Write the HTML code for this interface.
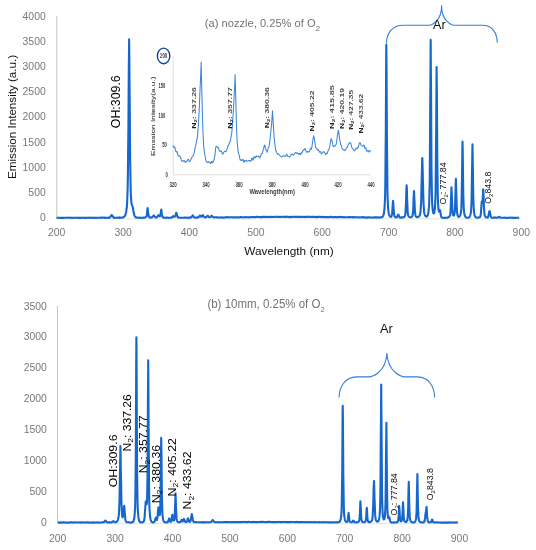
<!DOCTYPE html>
<html><head><meta charset="utf-8"><title>Emission spectra</title>
<style>
html,body{margin:0;padding:0;background:#fff;}
body{width:536px;height:550px;overflow:hidden;}
svg{display:block;font-family:"Liberation Sans",sans-serif;}
.tk{font-size:10.4px;fill:#787878;}
.ttl{font-size:11.3px;fill:#737373;}
.sb{font-size:8px;}
.ttl2{font-size:11.9px;fill:#737373;}
.ax{font-size:11.6px;fill:#111;}
.ar{font-size:12px;fill:#111;}
.pk{font-size:11.9px;fill:#000;}
.pkb{font-size:10.7px;fill:#000;}
.sb2{font-size:7.4px;}
.o2{font-size:9px;fill:#111;}
.sb3{font-size:6px;}
.itk{font-size:6.5px;font-weight:bold;fill:#3a3a3a;}
.iax{font-size:6.6px;font-weight:bold;fill:#3c3c3c;}
.iay{font-size:6px;fill:#3a3a3a;stroke:#3a3a3a;stroke-width:0.1px;}
.il{font-size:5.7px;font-weight:bold;fill:#4a4a4a;}
.iN{fill:#1c1c1c;}
.isb{font-size:3.9px;fill:#1c1c1c;}
</style></head><body>
<svg width="536" height="550" viewBox="0 0 536 550">
<rect width="536" height="550" fill="#fff"/>
<g stroke="#c4c4c4" stroke-width="1" fill="none">
<path d="M56.8 16 V218.8"/>
<path d="M56.8 218.9 H521" stroke="#e2e2e2"/>
<path d="M57.5 306 V523.2"/>
<path d="M57.5 523.6 H459" stroke="#e2e2e2"/>
</g>
<g stroke="#dedede" stroke-width="1" fill="none">
<path d="M173.2 56 V174.8"/>
<path d="M173.2 174.8 H370.5"/>
</g>
<text class="tk" transform="translate(45.70 19.50)" text-anchor="end">4000</text>
<text class="tk" transform="translate(45.70 44.74)" text-anchor="end">3500</text>
<text class="tk" transform="translate(45.70 69.98)" text-anchor="end">3000</text>
<text class="tk" transform="translate(45.70 95.22)" text-anchor="end">2500</text>
<text class="tk" transform="translate(45.70 120.46)" text-anchor="end">2000</text>
<text class="tk" transform="translate(45.70 145.70)" text-anchor="end">1500</text>
<text class="tk" transform="translate(45.70 170.94)" text-anchor="end">1000</text>
<text class="tk" transform="translate(45.70 196.18)" text-anchor="end">500</text>
<text class="tk" transform="translate(45.70 221.42)" text-anchor="end">0</text>
<text class="tk" transform="translate(46.80 309.50)" text-anchor="end">3500</text>
<text class="tk" transform="translate(46.80 340.40)" text-anchor="end">3000</text>
<text class="tk" transform="translate(46.80 371.30)" text-anchor="end">2500</text>
<text class="tk" transform="translate(46.80 402.20)" text-anchor="end">2000</text>
<text class="tk" transform="translate(46.80 433.10)" text-anchor="end">1500</text>
<text class="tk" transform="translate(46.80 464.00)" text-anchor="end">1000</text>
<text class="tk" transform="translate(46.80 494.90)" text-anchor="end">500</text>
<text class="tk" transform="translate(46.80 525.80)" text-anchor="end">0</text>
<text class="tk" transform="translate(56.70 236.40)" text-anchor="middle">200</text>
<text class="tk" transform="translate(123.07 236.40)" text-anchor="middle">300</text>
<text class="tk" transform="translate(189.44 236.40)" text-anchor="middle">400</text>
<text class="tk" transform="translate(255.81 236.40)" text-anchor="middle">500</text>
<text class="tk" transform="translate(322.18 236.40)" text-anchor="middle">600</text>
<text class="tk" transform="translate(388.55 236.40)" text-anchor="middle">700</text>
<text class="tk" transform="translate(454.92 236.40)" text-anchor="middle">800</text>
<text class="tk" transform="translate(521.29 236.40)" text-anchor="middle">900</text>
<text class="tk" transform="translate(57.70 541.50)" text-anchor="middle">200</text>
<text class="tk" transform="translate(115.10 541.50)" text-anchor="middle">300</text>
<text class="tk" transform="translate(172.50 541.50)" text-anchor="middle">400</text>
<text class="tk" transform="translate(229.90 541.50)" text-anchor="middle">500</text>
<text class="tk" transform="translate(287.30 541.50)" text-anchor="middle">600</text>
<text class="tk" transform="translate(344.70 541.50)" text-anchor="middle">700</text>
<text class="tk" transform="translate(402.10 541.50)" text-anchor="middle">800</text>
<text class="tk" transform="translate(459.50 541.50)" text-anchor="middle">900</text>
<text class="ttl" transform="translate(204.80 27.40) scale(0.9867 1)">(a) nozzle, 0.25% of O<tspan class="sb" dy="3.6">2</tspan></text>
<text class="ttl2" transform="translate(207.40 308.40) scale(0.9669 1)">(b) 10mm, 0.25% of O<tspan class="sb" dy="3.7">2</tspan></text>
<text class="ax" transform="translate(244.30 255.20) scale(1.0177 1)">Wavelength (nm)</text>
<text class="ax" transform="translate(15.90 178.90) rotate(-90) scale(1.0023 1)">Emission Intensity (a.u.)</text>
<path d="M172.6,146.3 L173.1,145.8 L173.7,146.6 L174.2,147.7 L174.8,147.1 L175.3,149.4 L175.9,151.7 L176.4,151.9 L177.0,151.5 L177.5,153.3 L178.1,155.6 L178.6,156.1 L179.2,155.7 L179.7,156.0 L180.2,156.7 L180.8,158.0 L181.3,160.0 L181.9,161.2 L182.4,160.9 L183.0,160.6 L183.5,161.4 L184.1,161.0 L184.6,160.5 L185.2,162.2 L185.7,162.4 L186.3,161.6 L186.8,161.2 L187.3,160.6 L187.9,159.6 L188.4,159.3 L189.0,160.8 L189.5,161.8 L190.1,161.4 L190.6,160.1 L191.2,158.9 L191.7,157.5 L192.3,156.7 L192.8,156.4 L193.4,154.8 L193.9,153.6 L194.4,151.8 L195.0,148.2 L195.5,146.0 L196.1,143.7 L196.6,140.7 L197.2,138.5 L197.7,133.9 L198.3,126.0 L198.8,117.3 L199.4,106.5 L199.9,92.6 L200.5,79.2 L201.0,66.7 L201.2,62.0 L201.5,78.3 L202.1,101.2 L202.6,121.1 L203.2,136.5 L203.7,146.2 L204.3,151.5 L204.8,154.6 L205.4,158.0 L205.9,160.7 L206.5,161.7 L207.0,162.4 L207.6,162.2 L208.1,161.6 L208.6,162.3 L209.2,162.5 L209.7,162.1 L210.3,163.4 L210.8,163.5 L211.4,161.5 L211.9,161.6 L212.5,162.9 L213.0,162.1 L213.6,161.1 L214.1,159.8 L214.7,156.8 L215.2,152.8 L215.7,147.7 L216.3,146.3 L216.8,146.3 L217.4,146.9 L217.9,147.9 L218.5,147.6 L219.0,149.7 L219.6,151.1 L220.1,151.5 L220.7,150.7 L221.2,151.3 L221.8,152.1 L222.3,153.7 L222.8,154.3 L223.4,152.8 L223.9,152.1 L224.5,151.5 L225.0,151.2 L225.6,151.7 L226.1,151.6 L226.7,150.2 L227.2,148.4 L227.8,146.0 L228.3,145.8 L228.9,144.8 L229.4,142.2 L229.9,142.0 L230.5,140.5 L231.0,137.0 L231.6,134.3 L232.1,129.0 L232.7,121.9 L233.2,113.0 L233.8,102.8 L234.3,92.8 L234.9,80.4 L235.1,74.6 L235.4,85.6 L236.0,107.1 L236.5,126.9 L237.0,138.8 L237.6,146.6 L238.1,151.5 L238.7,153.6 L239.2,155.3 L239.8,158.4 L240.3,160.4 L240.9,159.8 L241.4,159.8 L242.0,160.6 L242.5,159.9 L243.1,159.3 L243.6,162.1 L244.1,161.9 L244.7,160.5 L245.2,161.1 L245.8,160.6 L246.3,160.2 L246.9,161.2 L247.4,161.3 L248.0,160.9 L248.5,160.5 L249.1,160.4 L249.6,160.6 L250.2,161.2 L250.7,161.5 L251.2,160.3 L251.8,158.1 L252.3,158.5 L252.9,160.2 L253.4,159.0 L254.0,157.0 L254.5,156.6 L255.1,158.0 L255.6,157.5 L256.2,155.8 L256.7,155.9 L257.3,156.7 L257.8,156.8 L258.3,156.3 L258.9,156.2 L259.4,157.2 L260.0,157.9 L260.5,156.5 L261.1,154.6 L261.6,153.5 L262.2,153.6 L262.7,151.9 L263.3,149.7 L263.8,147.7 L264.4,145.0 L264.9,145.2 L265.4,148.2 L266.0,149.9 L266.5,150.4 L267.1,152.3 L267.6,150.9 L268.2,147.9 L268.7,147.6 L269.3,145.4 L269.8,140.9 L270.4,135.7 L270.9,130.8 L271.5,125.4 L272.0,118.5 L272.5,110.7 L272.5,111.4 L273.1,120.9 L273.6,129.6 L274.2,137.5 L274.7,143.1 L275.3,147.7 L275.8,150.8 L276.4,151.5 L276.9,152.9 L277.5,154.2 L278.0,153.5 L278.6,154.3 L279.1,154.5 L279.6,155.0 L280.2,156.3 L280.7,156.4 L281.3,156.8 L281.8,156.8 L282.4,156.5 L282.9,155.8 L283.5,155.8 L284.0,156.1 L284.6,155.7 L285.1,156.1 L285.7,156.4 L286.2,155.4 L286.7,154.2 L287.3,155.0 L287.8,156.2 L288.4,156.5 L288.9,156.7 L289.5,157.1 L290.0,156.8 L290.6,155.8 L291.1,154.8 L291.7,154.1 L292.2,154.3 L292.8,154.9 L293.3,155.1 L293.8,154.5 L294.4,153.6 L294.9,153.0 L295.5,152.6 L296.0,152.6 L296.6,153.3 L297.1,153.4 L297.7,152.8 L298.2,153.5 L298.8,154.4 L299.3,153.8 L299.9,153.2 L300.4,154.6 L300.9,154.3 L301.5,152.5 L302.0,152.8 L302.6,151.6 L303.1,150.3 L303.7,150.4 L304.2,149.4 L304.8,148.5 L305.3,149.6 L305.9,150.8 L306.4,152.0 L307.0,152.3 L307.5,151.5 L308.0,151.5 L308.6,152.1 L309.1,151.8 L309.7,151.2 L310.2,148.9 L310.8,148.1 L311.3,149.2 L311.9,147.2 L312.4,143.0 L313.0,139.0 L313.5,136.9 L313.8,135.7 L314.1,137.4 L314.6,140.7 L315.1,143.9 L315.7,147.8 L316.2,147.9 L316.8,148.5 L317.3,150.1 L317.9,149.5 L318.4,149.9 L319.0,150.9 L319.5,152.2 L320.1,151.5 L320.6,151.7 L321.2,154.0 L321.7,153.8 L322.2,152.9 L322.8,152.6 L323.3,151.5 L323.9,151.9 L324.4,152.8 L325.0,153.0 L325.5,154.4 L326.1,154.3 L326.6,153.0 L327.2,153.4 L327.7,152.1 L328.3,150.0 L328.8,149.6 L329.3,148.1 L329.9,145.9 L330.4,142.2 L331.0,139.1 L331.2,138.8 L331.5,139.4 L332.1,141.2 L332.6,144.0 L333.2,146.6 L333.7,146.2 L334.3,145.8 L334.8,146.3 L335.4,145.5 L335.9,144.8 L336.4,143.3 L337.0,138.9 L337.5,134.9 L338.1,131.6 L338.4,130.2 L338.6,131.4 L339.2,135.0 L339.7,139.4 L340.3,142.7 L340.8,145.0 L341.4,145.2 L341.9,147.6 L342.5,149.1 L343.0,149.4 L343.5,150.0 L344.1,149.7 L344.6,150.6 L345.2,150.3 L345.7,149.8 L346.3,148.3 L346.8,147.4 L347.4,147.3 L347.9,145.5 L348.5,144.3 L349.0,143.3 L349.6,143.3 L350.1,142.5 L350.6,142.7 L351.2,144.9 L351.7,147.0 L352.3,148.4 L352.8,148.8 L353.4,149.3 L353.9,149.8 L354.5,150.9 L355.0,150.1 L355.6,149.1 L356.1,148.1 L356.7,147.9 L357.2,148.8 L357.7,147.7 L358.3,147.3 L358.8,145.6 L359.4,142.9 L359.9,142.6 L360.5,143.6 L361.0,145.2 L361.6,146.0 L362.1,146.0 L362.7,146.3 L363.2,145.7 L363.8,145.0 L364.3,145.2 L364.8,148.3 L365.4,148.4 L365.9,147.7 L366.5,150.6 L367.0,151.4 L367.6,150.5 L368.1,150.4 L368.7,151.4 L369.2,152.1 L369.8,150.9 L370.3,150.5 L370.9,151.2" fill="none" stroke="#3d86d6" stroke-width="1.05" stroke-linejoin="round"/>
<ellipse cx="163.6" cy="55.9" rx="6.2" ry="7.8" fill="none" stroke="#0f4596" stroke-width="1.4"/>
<text class="itk" transform="translate(163.60 58.30) scale(0.6630 1)" text-anchor="middle">200</text>
<text class="itk" transform="translate(161.90 88.02) scale(0.6262 1)" text-anchor="middle">150</text>
<text class="itk" transform="translate(162.00 117.74) scale(0.6262 1)" text-anchor="middle">100</text>
<text class="itk" transform="translate(164.60 147.46) scale(0.6359 1)" text-anchor="middle">50</text>
<text class="itk" transform="translate(166.70 177.18) scale(0.6345 1)" text-anchor="middle">0</text>
<text class="itk" transform="translate(173.00 186.90) scale(0.6722 1)" text-anchor="middle">320</text>
<text class="itk" transform="translate(206.00 186.90) scale(0.6722 1)" text-anchor="middle">340</text>
<text class="itk" transform="translate(239.00 186.90) scale(0.6722 1)" text-anchor="middle">360</text>
<text class="itk" transform="translate(272.00 186.90) scale(0.6722 1)" text-anchor="middle">380</text>
<text class="itk" transform="translate(305.00 186.90) scale(0.6722 1)" text-anchor="middle">400</text>
<text class="itk" transform="translate(338.00 186.90) scale(0.6722 1)" text-anchor="middle">420</text>
<text class="itk" transform="translate(371.00 186.90) scale(0.6722 1)" text-anchor="middle">440</text>
<text class="iax" transform="translate(249.50 194.30) scale(0.8894 1)">Wavelength(nm)</text>
<text class="iay" transform="translate(155.10 156.00) rotate(-90) scale(1.3798 1)">Emssion Intesity(a.u.)</text>
<text class="il" transform="translate(196.00 128.70) rotate(-90) scale(1.5282 1)"><tspan class="iN">N</tspan><tspan class="isb" dy="1.1">2</tspan><tspan dy="-1.1">: 337.26</tspan></text>
<text class="il" transform="translate(231.70 128.70) rotate(-90) scale(1.5282 1)"><tspan class="iN">N</tspan><tspan class="isb" dy="1.1">2</tspan><tspan dy="-1.1">: 357.77</tspan></text>
<text class="il" transform="translate(268.50 128.30) rotate(-90) scale(1.5098 1)"><tspan class="iN">N</tspan><tspan class="isb" dy="1.1">2</tspan><tspan dy="-1.1">: 380.36</tspan></text>
<text class="il" transform="translate(313.50 131.50) rotate(-90) scale(1.5098 1)"><tspan class="iN">N</tspan><tspan class="isb" dy="1.1">2</tspan><tspan dy="-1.1">: 405.22</tspan></text>
<text class="il" transform="translate(334.30 129.00) rotate(-90) scale(1.6203 1)"><tspan class="iN">N</tspan><tspan class="isb" dy="1.1">2</tspan><tspan dy="-1.1">: 415.85</tspan></text>
<text class="il" transform="translate(344.20 129.00) rotate(-90) scale(1.5098 1)"><tspan class="iN">N</tspan><tspan class="isb" dy="1.1">2</tspan><tspan dy="-1.1">: 420.19</tspan></text>
<text class="il" transform="translate(353.20 129.80) rotate(-90) scale(1.4730 1)"><tspan class="iN">N</tspan><tspan class="isb" dy="1.1">2</tspan><tspan dy="-1.1">: 427.35</tspan></text>
<text class="il" transform="translate(363.00 133.60) rotate(-90) scale(1.4656 1)"><tspan class="iN">N</tspan><tspan class="isb" dy="1.1">2</tspan><tspan dy="-1.1">: 433.62</tspan></text>
<path d="M56.6,217.7 L56.8,217.7 L57.1,217.8 L57.3,217.8 L57.5,217.9 L57.8,217.9 L58.0,217.8 L58.2,217.8 L58.5,217.7 L58.7,217.7 L58.9,217.8 L59.2,217.7 L59.4,217.7 L59.6,217.8 L59.9,217.8 L60.1,217.8 L60.3,217.8 L60.5,217.9 L60.8,218.0 L61.0,218.0 L61.2,218.0 L61.5,218.0 L61.7,217.9 L61.9,217.8 L62.2,217.8 L62.4,217.9 L62.6,217.9 L62.9,217.9 L63.1,217.9 L63.3,217.9 L63.6,217.8 L63.8,217.9 L64.0,217.9 L64.3,217.8 L64.5,217.8 L64.7,217.8 L65.0,217.7 L65.2,217.8 L65.4,217.7 L65.7,217.7 L65.9,217.8 L66.1,217.8 L66.4,217.8 L66.6,217.7 L66.8,217.8 L67.1,217.7 L67.3,217.7 L67.5,217.8 L67.8,217.6 L68.0,217.6 L68.2,217.7 L68.4,217.7 L68.7,217.7 L68.9,217.8 L69.1,217.7 L69.4,217.7 L69.6,217.7 L69.8,217.6 L70.1,217.7 L70.3,217.7 L70.5,217.7 L70.8,217.8 L71.0,217.8 L71.2,217.9 L71.5,217.8 L71.7,217.8 L71.9,217.7 L72.2,217.7 L72.4,217.8 L72.6,217.8 L72.9,217.9 L73.1,217.9 L73.3,217.8 L73.6,217.8 L73.8,217.7 L74.0,217.7 L74.3,217.7 L74.5,217.8 L74.7,217.7 L75.0,217.7 L75.2,217.7 L75.4,217.7 L75.6,217.8 L75.9,217.8 L76.1,217.8 L76.3,217.8 L76.6,217.8 L76.8,217.8 L77.0,217.7 L77.3,217.7 L77.5,217.6 L77.7,217.7 L78.0,217.7 L78.2,217.7 L78.4,217.7 L78.7,217.7 L78.9,217.8 L79.1,217.9 L79.4,218.0 L79.6,217.9 L79.8,218.0 L80.1,217.9 L80.3,217.7 L80.5,217.7 L80.8,217.7 L81.0,217.7 L81.2,217.8 L81.5,217.8 L81.7,217.7 L81.9,217.7 L82.2,217.7 L82.4,217.8 L82.6,217.7 L82.8,217.8 L83.1,217.9 L83.3,217.8 L83.5,217.8 L83.8,217.8 L84.0,217.7 L84.2,217.7 L84.5,217.7 L84.7,217.8 L84.9,217.9 L85.2,217.9 L85.4,217.9 L85.6,218.0 L85.9,217.9 L86.1,217.9 L86.3,217.9 L86.6,217.8 L86.8,217.8 L87.0,217.7 L87.3,217.8 L87.5,217.7 L87.7,217.7 L88.0,217.7 L88.2,217.6 L88.4,217.7 L88.7,217.8 L88.9,217.8 L89.1,217.8 L89.4,217.8 L89.6,217.8 L89.8,217.9 L90.1,217.9 L90.3,217.8 L90.5,217.8 L90.7,217.7 L91.0,217.6 L91.2,217.7 L91.4,217.8 L91.7,217.8 L91.9,217.8 L92.1,217.8 L92.4,217.8 L92.6,217.9 L92.8,217.9 L93.1,217.8 L93.3,217.8 L93.5,217.8 L93.8,217.7 L94.0,217.7 L94.2,217.8 L94.5,217.7 L94.7,217.8 L94.9,218.0 L95.2,217.8 L95.4,217.8 L95.6,217.8 L95.9,217.7 L96.1,217.8 L96.3,217.8 L96.6,217.8 L96.8,217.8 L97.0,217.9 L97.3,217.8 L97.5,217.8 L97.7,217.8 L97.9,217.7 L98.2,217.8 L98.4,217.8 L98.6,217.8 L98.9,217.8 L99.1,217.8 L99.3,217.7 L99.6,217.7 L99.8,217.7 L100.0,217.6 L100.3,217.7 L100.5,217.8 L100.7,217.8 L101.0,217.8 L101.2,217.7 L101.4,217.6 L101.7,217.6 L101.9,217.6 L102.1,217.6 L102.4,217.6 L102.6,217.6 L102.8,217.7 L103.1,217.7 L103.3,217.7 L103.5,217.7 L103.8,217.5 L104.0,217.5 L104.2,217.6 L104.5,217.7 L104.7,217.8 L104.9,217.9 L105.1,217.8 L105.4,217.7 L105.6,217.8 L105.8,217.9 L106.1,217.9 L106.3,217.9 L106.5,217.8 L106.8,217.7 L107.0,217.8 L107.2,217.8 L107.5,217.8 L107.7,217.9 L107.9,217.9 L108.2,217.8 L108.4,217.8 L108.6,217.7 L108.9,217.6 L109.1,217.7 L109.3,217.7 L109.6,217.7 L109.8,217.5 L110.0,217.3 L110.3,217.0 L110.5,216.7 L110.7,216.2 L111.0,215.9 L111.2,215.5 L111.4,215.2 L111.7,215.0 L111.7,215.0 L111.9,215.3 L112.1,215.5 L112.4,215.9 L112.6,216.2 L112.8,216.6 L113.0,216.9 L113.3,217.1 L113.5,217.4 L113.7,217.5 L114.0,217.8 L114.2,218.0 L114.4,217.9 L114.7,217.9 L114.9,217.8 L115.1,217.7 L115.4,217.7 L115.6,217.7 L115.8,217.7 L116.1,217.7 L116.3,217.6 L116.5,217.7 L116.8,217.7 L117.0,217.7 L117.2,217.6 L117.5,217.7 L117.7,217.7 L117.9,217.8 L118.2,217.7 L118.4,217.8 L118.6,217.8 L118.9,217.7 L119.1,217.9 L119.3,217.7 L119.6,217.6 L119.8,217.7 L120.0,217.5 L120.2,217.6 L120.5,217.8 L120.7,217.8 L120.9,217.8 L121.2,217.8 L121.4,217.7 L121.6,217.7 L121.9,217.7 L122.1,217.6 L122.3,217.5 L122.6,217.4 L122.8,217.3 L123.0,217.3 L123.3,217.3 L123.5,217.3 L123.7,217.1 L124.0,216.9 L124.2,216.7 L124.4,216.3 L124.7,216.1 L124.9,215.8 L125.1,215.4 L125.4,214.9 L125.6,214.2 L125.8,213.3 L126.1,212.2 L126.3,210.9 L126.5,209.4 L126.8,207.5 L127.0,204.8 L127.2,201.0 L127.4,195.5 L127.7,186.9 L127.9,173.7 L128.1,154.3 L128.4,128.6 L128.6,98.9 L128.8,69.6 L129.1,45.1 L129.1,39.4 L129.3,54.8 L129.5,81.8 L129.8,111.8 L130.0,139.9 L130.2,162.8 L130.5,179.1 L130.7,189.7 L130.9,196.3 L131.2,200.2 L131.4,202.5 L131.6,204.0 L131.9,204.9 L132.1,205.5 L132.3,205.9 L132.6,206.5 L132.6,206.5 L132.8,207.5 L133.0,208.8 L133.3,210.1 L133.5,211.5 L133.7,212.6 L134.0,213.8 L134.2,214.7 L134.4,215.3 L134.7,216.0 L134.9,216.3 L135.1,216.6 L135.3,216.9 L135.6,217.1 L135.8,217.3 L136.0,217.5 L136.3,217.5 L136.5,217.4 L136.7,217.5 L137.0,217.5 L137.2,217.7 L137.4,217.7 L137.7,217.7 L137.9,217.7 L138.1,217.6 L138.4,217.7 L138.6,217.7 L138.8,217.7 L139.1,217.7 L139.3,217.7 L139.5,217.6 L139.8,217.6 L140.0,217.6 L140.2,217.7 L140.5,217.8 L140.7,217.9 L140.9,218.0 L141.2,217.8 L141.4,217.8 L141.6,217.7 L141.9,217.7 L142.1,217.8 L142.3,217.9 L142.5,217.8 L142.8,217.6 L143.0,217.6 L143.2,217.6 L143.5,217.7 L143.7,217.8 L143.9,217.8 L144.2,217.8 L144.4,217.7 L144.6,217.7 L144.9,217.6 L145.1,217.4 L145.3,217.3 L145.6,217.2 L145.8,217.1 L146.0,216.9 L146.3,216.7 L146.5,216.1 L146.7,215.2 L147.0,213.6 L147.2,211.4 L147.4,209.3 L147.6,208.0 L147.7,208.3 L147.9,210.4 L148.1,212.6 L148.4,214.5 L148.6,215.8 L148.8,216.5 L149.1,216.8 L149.3,217.0 L149.5,217.3 L149.8,217.4 L150.0,217.5 L150.2,217.5 L150.4,217.6 L150.7,217.5 L150.9,217.6 L151.1,217.5 L151.4,217.4 L151.6,217.5 L151.8,217.5 L152.1,217.3 L152.3,217.2 L152.5,216.8 L152.8,216.5 L153.0,216.3 L153.2,216.0 L153.5,215.8 L153.7,215.6 L153.8,215.6 L153.9,215.5 L154.2,215.6 L154.4,216.0 L154.6,216.3 L154.9,216.7 L155.1,217.0 L155.3,217.2 L155.6,217.4 L155.8,217.5 L156.0,217.6 L156.3,217.6 L156.5,217.5 L156.7,217.4 L157.0,217.2 L157.2,216.9 L157.4,216.7 L157.6,216.4 L157.9,216.0 L158.1,215.7 L158.3,215.4 L158.5,215.3 L158.6,215.3 L158.8,215.4 L159.0,215.8 L159.3,215.9 L159.5,216.2 L159.7,216.3 L160.0,216.2 L160.2,215.9 L160.4,215.1 L160.7,213.8 L160.9,212.0 L161.1,210.2 L161.3,209.5 L161.4,210.1 L161.6,211.8 L161.8,213.7 L162.1,215.3 L162.3,216.2 L162.5,216.8 L162.8,217.1 L163.0,217.3 L163.2,217.4 L163.5,217.6 L163.7,217.6 L163.9,217.7 L164.2,217.7 L164.4,217.6 L164.6,217.7 L164.8,217.7 L165.1,217.7 L165.3,217.8 L165.5,217.9 L165.8,217.8 L166.0,217.8 L166.2,217.7 L166.5,217.6 L166.7,217.7 L166.9,217.7 L167.2,217.6 L167.4,217.6 L167.6,217.7 L167.9,217.8 L168.1,217.9 L168.3,217.9 L168.6,217.7 L168.8,217.7 L169.0,217.7 L169.3,217.8 L169.5,217.7 L169.7,217.8 L170.0,217.7 L170.2,217.8 L170.4,217.8 L170.7,217.7 L170.9,217.7 L171.1,217.7 L171.4,217.7 L171.6,217.5 L171.8,217.3 L172.1,217.1 L172.3,216.8 L172.5,216.7 L172.7,216.5 L173.0,216.3 L173.1,216.2 L173.2,216.1 L173.4,216.4 L173.7,216.6 L173.9,216.8 L174.1,216.9 L174.4,216.9 L174.6,216.8 L174.8,216.6 L175.1,216.3 L175.3,215.8 L175.5,215.0 L175.8,214.1 L176.0,213.4 L176.2,212.8 L176.3,212.7 L176.5,213.1 L176.7,213.8 L176.9,214.7 L177.2,215.6 L177.4,216.4 L177.6,216.9 L177.9,217.2 L178.1,217.3 L178.3,217.5 L178.6,217.5 L178.8,217.6 L179.0,217.7 L179.3,217.7 L179.5,217.8 L179.7,217.7 L179.9,217.7 L180.2,217.7 L180.4,217.7 L180.6,217.7 L180.9,217.7 L181.1,217.8 L181.3,217.8 L181.6,217.7 L181.8,217.8 L182.0,217.7 L182.3,217.7 L182.5,217.7 L182.7,217.7 L183.0,217.7 L183.2,217.7 L183.4,217.7 L183.7,217.7 L183.9,217.7 L184.1,217.6 L184.4,217.6 L184.6,217.7 L184.8,217.7 L185.1,217.6 L185.3,217.6 L185.5,217.7 L185.8,217.7 L186.0,217.6 L186.2,217.6 L186.5,217.5 L186.7,217.6 L186.9,217.6 L187.1,217.7 L187.4,217.8 L187.6,217.7 L187.8,217.8 L188.1,217.9 L188.3,217.8 L188.5,217.7 L188.8,217.7 L189.0,217.6 L189.2,217.5 L189.5,217.4 L189.7,217.4 L189.9,217.4 L190.2,217.6 L190.4,217.7 L190.6,217.6 L190.9,217.5 L191.1,217.4 L191.3,217.2 L191.6,217.0 L191.8,216.8 L192.0,216.4 L192.3,216.1 L192.5,215.6 L192.7,215.4 L192.8,215.4 L193.0,215.5 L193.2,215.9 L193.4,216.4 L193.7,216.7 L193.9,217.0 L194.1,217.2 L194.4,217.4 L194.6,217.5 L194.8,217.6 L195.0,217.7 L195.3,217.7 L195.5,217.7 L195.7,217.7 L196.0,217.6 L196.2,217.5 L196.4,217.5 L196.7,217.5 L196.9,217.7 L197.1,217.6 L197.4,217.6 L197.6,217.6 L197.8,217.3 L198.1,217.2 L198.3,217.1 L198.5,217.0 L198.8,216.9 L199.0,216.7 L199.2,216.4 L199.5,216.0 L199.7,215.7 L199.9,215.5 L199.9,215.5 L200.2,215.7 L200.4,216.0 L200.6,216.3 L200.9,216.5 L201.1,216.7 L201.3,216.8 L201.6,216.7 L201.8,216.4 L202.0,216.0 L202.2,215.7 L202.5,215.3 L202.7,215.1 L202.7,215.2 L202.9,215.4 L203.2,215.6 L203.4,216.0 L203.6,216.4 L203.9,216.7 L204.1,216.9 L204.3,217.1 L204.6,217.2 L204.8,217.3 L205.0,217.4 L205.3,217.4 L205.5,217.5 L205.7,217.3 L206.0,217.2 L206.2,217.1 L206.4,216.8 L206.7,216.6 L206.9,216.3 L207.1,216.0 L207.4,215.8 L207.5,215.7 L207.6,215.7 L207.8,215.8 L208.1,216.0 L208.3,216.4 L208.5,216.7 L208.8,217.0 L209.0,217.1 L209.2,217.2 L209.5,217.3 L209.7,217.3 L209.9,217.2 L210.1,217.2 L210.4,217.0 L210.6,216.8 L210.8,216.5 L211.1,216.2 L211.3,215.9 L211.5,215.8 L211.6,215.7 L211.8,215.8 L212.0,216.0 L212.2,216.3 L212.5,216.5 L212.7,216.7 L212.9,216.9 L213.2,217.1 L213.4,217.3 L213.6,217.3 L213.9,217.4 L214.1,217.5 L214.3,217.5 L214.6,217.4 L214.8,217.3 L215.0,217.3 L215.3,217.2 L215.5,217.3 L215.7,217.3 L216.0,217.3 L216.2,217.3 L216.4,217.4 L216.7,217.4 L216.9,217.4 L217.1,217.3 L217.3,217.3 L217.6,217.3 L217.8,217.2 L218.0,217.4 L218.3,217.5 L218.5,217.5 L218.7,217.5 L219.0,217.4 L219.2,217.4 L219.4,217.5 L219.7,217.5 L219.9,217.6 L220.1,217.6 L220.4,217.5 L220.6,217.5 L220.8,217.6 L221.1,217.5 L221.3,217.5 L221.5,217.4 L221.8,217.2 L222.0,217.3 L222.2,217.4 L222.5,217.5 L222.7,217.6 L222.9,217.6 L223.2,217.5 L223.4,217.6 L223.6,217.5 L223.9,217.6 L224.1,217.5 L224.3,217.5 L224.5,217.5 L224.8,217.4 L225.0,217.4 L225.2,217.5 L225.5,217.5 L225.7,217.5 L225.9,217.4 L226.2,217.3 L226.4,217.1 L226.6,217.1 L226.9,217.2 L227.1,217.2 L227.3,217.3 L227.6,217.3 L227.8,217.3 L228.0,217.4 L228.3,217.4 L228.5,217.4 L228.7,217.4 L229.0,217.5 L229.2,217.3 L229.4,217.3 L229.7,217.3 L229.9,217.2 L230.1,217.3 L230.4,217.3 L230.6,217.3 L230.8,217.3 L231.1,217.3 L231.3,217.3 L231.5,217.2 L231.8,217.3 L232.0,217.3 L232.2,217.3 L232.4,217.3 L232.7,217.4 L232.9,217.4 L233.1,217.4 L233.4,217.4 L233.6,217.3 L233.8,217.2 L234.1,217.3 L234.3,217.2 L234.5,217.3 L234.8,217.4 L235.0,217.3 L235.2,217.4 L235.5,217.4 L235.7,217.4 L235.9,217.5 L236.2,217.5 L236.4,217.4 L236.6,217.4 L236.9,217.2 L237.1,217.2 L237.3,217.3 L237.6,217.3 L237.8,217.4 L238.0,217.5 L238.3,217.4 L238.5,217.4 L238.7,217.4 L239.0,217.3 L239.2,217.4 L239.4,217.3 L239.6,217.2 L239.9,217.2 L240.1,217.2 L240.3,217.1 L240.6,217.1 L240.8,217.1 L241.0,217.1 L241.3,217.2 L241.5,217.3 L241.7,217.3 L242.0,217.3 L242.2,217.3 L242.4,217.2 L242.7,217.2 L242.9,217.3 L243.1,217.3 L243.4,217.4 L243.6,217.4 L243.8,217.3 L244.1,217.3 L244.3,217.3 L244.5,217.2 L244.8,217.2 L245.0,217.2 L245.2,217.2 L245.5,217.0 L245.7,217.1 L245.9,217.1 L246.2,217.2 L246.4,217.3 L246.6,217.3 L246.8,217.3 L247.1,217.2 L247.3,217.3 L247.5,217.3 L247.8,217.3 L248.0,217.4 L248.2,217.4 L248.5,217.4 L248.7,217.3 L248.9,217.2 L249.2,217.3 L249.4,217.3 L249.6,217.2 L249.9,217.2 L250.1,217.1 L250.3,217.1 L250.6,217.1 L250.8,217.2 L251.0,217.2 L251.3,217.2 L251.5,217.2 L251.7,217.1 L252.0,217.0 L252.2,217.0 L252.4,217.0 L252.7,217.1 L252.9,217.1 L253.1,217.0 L253.4,217.0 L253.6,217.0 L253.8,217.0 L254.1,217.1 L254.3,217.0 L254.5,217.0 L254.7,217.1 L255.0,217.2 L255.2,217.2 L255.4,217.2 L255.7,217.0 L255.9,217.0 L256.1,216.9 L256.4,217.0 L256.6,217.0 L256.8,216.9 L257.1,216.9 L257.3,216.9 L257.5,216.9 L257.8,216.9 L258.0,217.0 L258.2,217.0 L258.5,217.0 L258.7,217.0 L258.9,217.0 L259.2,217.0 L259.4,217.0 L259.6,217.1 L259.9,217.0 L260.1,217.1 L260.3,217.1 L260.6,217.1 L260.8,217.1 L261.0,217.0 L261.3,217.0 L261.5,217.1 L261.7,217.0 L261.9,217.1 L262.2,217.1 L262.4,216.9 L262.6,216.8 L262.9,216.8 L263.1,216.8 L263.3,216.9 L263.6,217.0 L263.8,216.9 L264.0,217.0 L264.3,216.9 L264.5,216.9 L264.7,216.9 L265.0,216.9 L265.2,216.9 L265.4,216.9 L265.7,217.0 L265.9,217.0 L266.1,216.9 L266.4,216.9 L266.6,217.1 L266.8,217.0 L267.1,217.0 L267.3,217.0 L267.5,216.9 L267.8,216.9 L268.0,216.9 L268.2,217.0 L268.5,217.0 L268.7,217.0 L268.9,217.0 L269.1,216.9 L269.4,216.9 L269.6,217.1 L269.8,216.9 L270.1,217.0 L270.3,217.0 L270.5,217.0 L270.8,217.0 L271.0,216.9 L271.2,216.9 L271.5,216.8 L271.7,216.8 L271.9,216.9 L272.2,216.9 L272.4,216.9 L272.6,217.0 L272.9,217.0 L273.1,217.0 L273.3,217.0 L273.6,217.0 L273.8,217.0 L274.0,216.9 L274.3,216.9 L274.5,216.8 L274.7,216.7 L275.0,216.8 L275.2,216.7 L275.4,216.8 L275.7,216.8 L275.9,216.8 L276.1,216.8 L276.4,216.7 L276.6,216.8 L276.8,216.9 L277.0,216.9 L277.3,217.0 L277.5,216.8 L277.7,216.8 L278.0,216.8 L278.2,216.8 L278.4,216.9 L278.7,216.8 L278.9,216.9 L279.1,216.9 L279.4,217.0 L279.6,217.0 L279.8,216.9 L280.1,216.9 L280.3,216.9 L280.5,217.0 L280.8,217.0 L281.0,217.0 L281.2,217.1 L281.5,217.0 L281.7,216.9 L281.9,216.8 L282.2,216.8 L282.4,216.8 L282.6,216.8 L282.9,216.8 L283.1,216.8 L283.3,216.8 L283.6,216.8 L283.8,216.9 L284.0,216.9 L284.2,216.9 L284.5,216.9 L284.7,216.9 L284.9,216.9 L285.2,216.9 L285.4,216.9 L285.6,216.8 L285.9,216.9 L286.1,216.7 L286.3,216.7 L286.6,216.7 L286.8,216.6 L287.0,216.7 L287.3,216.8 L287.5,216.8 L287.7,216.9 L288.0,216.9 L288.2,216.8 L288.4,217.0 L288.7,217.0 L288.9,217.1 L289.1,217.1 L289.4,217.0 L289.6,217.0 L289.8,216.9 L290.1,216.9 L290.3,217.0 L290.5,217.0 L290.8,217.1 L291.0,217.2 L291.2,217.1 L291.5,217.0 L291.7,217.0 L291.9,216.8 L292.1,216.9 L292.4,216.9 L292.6,216.9 L292.8,216.9 L293.1,216.8 L293.3,216.8 L293.5,216.7 L293.8,216.7 L294.0,216.8 L294.2,216.9 L294.5,216.9 L294.7,216.8 L294.9,216.8 L295.2,216.7 L295.4,216.8 L295.6,216.9 L295.9,216.8 L296.1,216.9 L296.3,216.9 L296.6,216.9 L296.8,217.0 L297.0,217.0 L297.3,216.8 L297.5,216.7 L297.7,216.7 L298.0,216.8 L298.2,216.9 L298.4,216.9 L298.7,216.9 L298.9,216.9 L299.1,216.8 L299.3,216.8 L299.6,216.8 L299.8,216.8 L300.0,217.0 L300.3,217.0 L300.5,217.1 L300.7,217.0 L301.0,217.0 L301.2,216.9 L301.4,216.7 L301.7,216.7 L301.9,216.7 L302.1,216.7 L302.4,216.8 L302.6,216.9 L302.8,216.8 L303.1,216.9 L303.3,217.0 L303.5,216.9 L303.8,217.0 L304.0,217.0 L304.2,217.0 L304.5,217.1 L304.7,216.9 L304.9,216.9 L305.2,216.9 L305.4,216.8 L305.6,216.9 L305.9,216.9 L306.1,217.0 L306.3,217.0 L306.5,216.9 L306.8,216.9 L307.0,216.9 L307.2,216.9 L307.5,216.9 L307.7,216.9 L307.9,216.8 L308.2,216.7 L308.4,216.8 L308.6,216.7 L308.9,216.7 L309.1,216.8 L309.3,216.7 L309.6,216.7 L309.8,216.9 L310.0,216.9 L310.3,217.0 L310.5,216.9 L310.7,216.9 L311.0,216.9 L311.2,217.0 L311.4,217.0 L311.7,217.0 L311.9,217.0 L312.1,216.9 L312.4,216.9 L312.6,216.8 L312.8,216.8 L313.1,216.8 L313.3,216.9 L313.5,216.9 L313.8,216.9 L314.0,216.9 L314.2,216.9 L314.4,216.9 L314.7,216.9 L314.9,216.9 L315.1,217.0 L315.4,217.0 L315.6,217.0 L315.8,216.9 L316.1,216.9 L316.3,217.1 L316.5,217.1 L316.8,217.2 L317.0,217.2 L317.2,217.0 L317.5,216.9 L317.7,216.9 L317.9,217.0 L318.2,216.9 L318.4,216.9 L318.6,216.9 L318.9,216.8 L319.1,216.7 L319.3,216.7 L319.6,216.7 L319.8,216.7 L320.0,216.8 L320.3,216.9 L320.5,217.0 L320.7,217.0 L321.0,217.1 L321.2,217.1 L321.4,217.0 L321.6,216.9 L321.9,216.9 L322.1,216.9 L322.3,216.9 L322.6,217.0 L322.8,216.9 L323.0,216.9 L323.3,217.0 L323.5,217.1 L323.7,217.2 L324.0,217.1 L324.2,217.1 L324.4,217.0 L324.7,217.0 L324.9,217.1 L325.1,217.0 L325.4,217.0 L325.6,217.0 L325.8,217.1 L326.1,217.2 L326.3,217.1 L326.5,217.2 L326.8,217.1 L327.0,217.0 L327.2,217.1 L327.5,217.1 L327.7,217.1 L327.9,217.1 L328.2,217.1 L328.4,217.1 L328.6,217.1 L328.8,217.2 L329.1,217.2 L329.3,217.1 L329.5,217.1 L329.8,217.0 L330.0,217.0 L330.2,216.9 L330.5,216.9 L330.7,216.9 L330.9,216.8 L331.2,216.9 L331.4,216.9 L331.6,217.0 L331.9,217.1 L332.1,217.1 L332.3,217.1 L332.6,217.2 L332.8,217.2 L333.0,217.2 L333.3,217.2 L333.5,217.2 L333.7,217.0 L334.0,217.0 L334.2,217.0 L334.4,217.1 L334.7,217.1 L334.9,217.1 L335.1,217.1 L335.4,217.0 L335.6,217.0 L335.8,217.0 L336.1,217.1 L336.3,217.3 L336.5,217.3 L336.7,217.2 L337.0,217.2 L337.2,217.2 L337.4,217.1 L337.7,217.1 L337.9,217.1 L338.1,217.1 L338.4,217.1 L338.6,217.2 L338.8,217.1 L339.1,217.0 L339.3,217.0 L339.5,216.9 L339.8,216.9 L340.0,216.9 L340.2,217.0 L340.5,217.1 L340.7,217.2 L340.9,217.2 L341.2,217.1 L341.4,217.1 L341.6,217.2 L341.9,217.1 L342.1,217.1 L342.3,217.1 L342.6,217.0 L342.8,217.0 L343.0,217.0 L343.3,217.2 L343.5,217.3 L343.7,217.3 L343.9,217.4 L344.2,217.3 L344.4,217.2 L344.6,217.2 L344.9,217.2 L345.1,217.1 L345.3,217.2 L345.6,217.2 L345.8,217.2 L346.0,217.2 L346.3,217.3 L346.5,217.2 L346.7,217.2 L347.0,217.3 L347.2,217.2 L347.4,217.2 L347.7,217.2 L347.9,217.2 L348.1,217.2 L348.4,217.1 L348.6,217.1 L348.8,217.1 L349.1,217.1 L349.3,217.2 L349.5,217.1 L349.8,217.2 L350.0,217.1 L350.2,217.1 L350.5,217.1 L350.7,217.2 L350.9,217.3 L351.2,217.2 L351.4,217.2 L351.6,217.1 L351.8,217.1 L352.1,217.0 L352.3,217.1 L352.5,217.2 L352.8,217.3 L353.0,217.5 L353.2,217.4 L353.5,217.4 L353.7,217.2 L353.9,217.1 L354.2,217.1 L354.4,217.1 L354.6,217.1 L354.9,217.2 L355.1,217.2 L355.3,217.3 L355.6,217.3 L355.8,217.3 L356.0,217.2 L356.3,217.3 L356.5,217.3 L356.7,217.3 L357.0,217.4 L357.2,217.3 L357.4,217.3 L357.7,217.2 L357.9,217.3 L358.1,217.3 L358.4,217.3 L358.6,217.3 L358.8,217.3 L359.0,217.4 L359.3,217.5 L359.5,217.5 L359.7,217.4 L360.0,217.3 L360.2,217.2 L360.4,217.3 L360.7,217.3 L360.9,217.2 L361.1,217.3 L361.4,217.2 L361.6,217.4 L361.8,217.4 L362.1,217.3 L362.3,217.2 L362.5,217.1 L362.8,217.1 L363.0,217.3 L363.2,217.3 L363.5,217.4 L363.7,217.4 L363.9,217.4 L364.2,217.4 L364.4,217.3 L364.6,217.3 L364.9,217.3 L365.1,217.4 L365.3,217.5 L365.6,217.5 L365.8,217.6 L366.0,217.6 L366.2,217.6 L366.5,217.6 L366.7,217.6 L366.9,217.7 L367.2,217.6 L367.4,217.5 L367.6,217.4 L367.9,217.4 L368.1,217.4 L368.3,217.4 L368.6,217.5 L368.8,217.4 L369.0,217.3 L369.3,217.4 L369.5,217.4 L369.7,217.5 L370.0,217.6 L370.2,217.5 L370.4,217.5 L370.7,217.5 L370.9,217.5 L371.1,217.5 L371.4,217.5 L371.6,217.4 L371.8,217.4 L372.1,217.5 L372.3,217.5 L372.5,217.5 L372.8,217.6 L373.0,217.6 L373.2,217.6 L373.5,217.6 L373.7,217.5 L373.9,217.5 L374.1,217.3 L374.4,217.4 L374.6,217.5 L374.8,217.3 L375.1,217.4 L375.3,217.3 L375.5,217.4 L375.8,217.5 L376.0,217.5 L376.2,217.7 L376.5,217.5 L376.7,217.5 L376.9,217.3 L377.2,217.3 L377.4,217.3 L377.6,217.3 L377.9,217.3 L378.1,217.3 L378.3,217.4 L378.6,217.5 L378.8,217.7 L379.0,217.8 L379.3,217.7 L379.5,217.7 L379.7,217.6 L380.0,217.5 L380.2,217.4 L380.4,217.3 L380.7,217.3 L380.9,217.2 L381.1,217.3 L381.3,217.3 L381.6,217.2 L381.8,217.3 L382.0,217.1 L382.3,217.0 L382.5,216.9 L382.7,216.5 L383.0,216.1 L383.2,215.6 L383.4,215.0 L383.7,214.4 L383.9,213.3 L384.1,211.8 L384.4,209.7 L384.6,206.9 L384.8,202.9 L385.1,196.3 L385.3,184.5 L385.5,163.3 L385.8,131.0 L386.0,92.0 L386.2,56.4 L386.3,44.7 L386.5,61.0 L386.7,97.8 L386.9,136.5 L387.2,167.3 L387.4,186.9 L387.6,197.8 L387.9,203.9 L388.1,207.5 L388.3,210.1 L388.5,212.0 L388.8,213.4 L389.0,214.5 L389.2,215.1 L389.5,215.6 L389.7,215.9 L389.9,216.2 L390.2,216.6 L390.4,216.6 L390.6,216.7 L390.9,216.9 L391.1,216.6 L391.3,216.4 L391.6,216.0 L391.8,215.2 L392.0,213.9 L392.3,211.6 L392.5,208.2 L392.7,204.5 L393.0,201.5 L393.0,200.9 L393.2,202.5 L393.4,205.9 L393.7,209.5 L393.9,212.6 L394.1,214.6 L394.4,215.8 L394.6,216.6 L394.8,216.8 L395.1,217.1 L395.3,217.1 L395.5,217.2 L395.8,217.4 L396.0,217.4 L396.2,217.5 L396.4,217.5 L396.7,217.3 L396.9,217.1 L397.1,216.8 L397.4,216.3 L397.6,215.8 L397.8,215.3 L398.1,214.8 L398.3,214.5 L398.3,214.5 L398.5,214.7 L398.8,215.2 L399.0,216.0 L399.2,216.6 L399.5,217.1 L399.7,217.4 L399.9,217.6 L400.2,217.6 L400.4,217.6 L400.6,217.6 L400.9,217.6 L401.1,217.6 L401.3,217.6 L401.6,217.4 L401.8,217.3 L402.0,217.3 L402.3,217.4 L402.5,217.4 L402.7,217.3 L403.0,217.4 L403.2,217.2 L403.4,217.1 L403.6,217.1 L403.9,216.9 L404.1,216.7 L404.3,216.7 L404.6,216.4 L404.8,216.1 L405.0,215.6 L405.3,214.5 L405.5,212.6 L405.7,209.1 L406.0,203.4 L406.2,196.3 L406.4,189.4 L406.6,185.2 L406.7,185.7 L406.9,191.0 L407.1,198.3 L407.4,205.2 L407.6,210.2 L407.8,213.2 L408.1,214.8 L408.3,215.6 L408.5,216.2 L408.8,216.4 L409.0,216.7 L409.2,217.0 L409.5,217.0 L409.7,217.2 L409.9,217.3 L410.2,217.2 L410.4,217.3 L410.6,217.3 L410.8,217.3 L411.1,217.3 L411.3,217.1 L411.5,217.0 L411.8,216.8 L412.0,216.6 L412.2,216.3 L412.5,215.7 L412.7,214.8 L412.9,212.9 L413.2,209.6 L413.4,204.5 L413.6,198.3 L413.9,193.0 L414.0,191.0 L414.1,192.3 L414.3,197.5 L414.6,203.3 L414.8,208.5 L415.0,212.3 L415.3,214.4 L415.5,215.5 L415.7,216.1 L416.0,216.4 L416.2,216.6 L416.4,216.9 L416.7,217.1 L416.9,217.0 L417.1,217.1 L417.4,217.1 L417.6,217.1 L417.8,217.1 L418.1,217.0 L418.3,216.9 L418.5,216.7 L418.7,216.6 L419.0,216.5 L419.2,216.2 L419.4,215.8 L419.7,215.4 L419.9,214.7 L420.1,213.7 L420.4,212.5 L420.6,210.5 L420.8,207.3 L421.1,202.4 L421.3,195.4 L421.5,186.3 L421.8,176.2 L422.0,166.8 L422.2,159.4 L422.3,158.0 L422.5,162.4 L422.7,170.8 L422.9,180.8 L423.2,190.7 L423.4,198.9 L423.6,205.1 L423.9,209.2 L424.1,211.7 L424.3,213.2 L424.6,214.2 L424.8,214.9 L425.0,215.5 L425.3,215.7 L425.5,216.1 L425.7,216.3 L425.9,216.4 L426.2,216.6 L426.4,216.6 L426.6,216.5 L426.9,216.4 L427.1,216.3 L427.3,216.0 L427.6,215.6 L427.8,215.1 L428.0,214.2 L428.3,213.1 L428.5,211.4 L428.7,209.4 L429.0,206.4 L429.2,202.0 L429.4,194.7 L429.7,181.2 L429.9,157.8 L430.1,123.2 L430.4,82.8 L430.6,47.6 L430.7,39.9 L430.8,61.4 L431.1,100.1 L431.3,139.2 L431.5,169.2 L431.8,187.8 L432.0,198.2 L432.2,203.8 L432.5,207.4 L432.7,209.8 L432.9,211.5 L433.2,212.5 L433.4,213.2 L433.6,213.5 L433.8,213.5 L434.1,213.2 L434.3,212.4 L434.5,211.2 L434.8,209.3 L435.0,206.7 L435.2,202.5 L435.5,195.2 L435.7,181.8 L435.9,159.3 L436.2,127.9 L436.4,94.0 L436.6,67.0 L436.6,67.0 L436.9,94.0 L437.1,128.0 L437.3,159.5 L437.6,182.0 L437.8,195.5 L438.0,202.8 L438.3,207.0 L438.5,209.5 L438.7,210.9 L439.0,211.6 L439.2,211.6 L439.4,211.1 L439.7,210.6 L439.9,210.3 L440.0,210.2 L440.1,210.8 L440.4,211.9 L440.6,213.3 L440.8,214.8 L441.0,215.8 L441.3,216.6 L441.5,217.2 L441.7,217.5 L442.0,217.7 L442.2,217.7 L442.4,217.7 L442.7,217.7 L442.9,217.8 L443.1,217.8 L443.4,217.8 L443.6,217.9 L443.8,217.8 L444.1,217.9 L444.3,217.9 L444.5,217.9 L444.8,217.9 L445.0,217.8 L445.2,217.7 L445.5,217.7 L445.7,217.7 L445.9,217.8 L446.2,217.8 L446.4,217.9 L446.6,217.8 L446.9,217.7 L447.1,217.8 L447.3,217.6 L447.6,217.6 L447.8,217.5 L448.0,217.4 L448.2,217.3 L448.5,217.2 L448.7,217.1 L448.9,217.0 L449.2,216.7 L449.4,216.5 L449.6,216.2 L449.9,215.7 L450.1,214.9 L450.3,213.3 L450.6,210.3 L450.8,205.2 L451.0,198.7 L451.3,192.1 L451.5,187.4 L451.5,187.5 L451.7,192.1 L452.0,198.7 L452.2,205.1 L452.4,210.1 L452.7,213.0 L452.9,214.5 L453.1,215.2 L453.4,215.5 L453.6,215.6 L453.8,215.5 L454.1,215.2 L454.3,214.6 L454.5,213.6 L454.8,211.2 L455.0,207.1 L455.2,200.4 L455.5,191.9 L455.7,183.8 L455.9,178.7 L455.9,179.3 L456.1,185.8 L456.4,194.5 L456.6,202.7 L456.8,208.7 L457.1,212.3 L457.3,214.0 L457.5,215.2 L457.8,215.8 L458.0,216.3 L458.2,216.7 L458.5,216.8 L458.7,216.9 L458.9,216.8 L459.2,216.6 L459.4,216.6 L459.6,216.3 L459.9,216.0 L460.1,215.6 L460.3,215.0 L460.6,214.2 L460.8,213.0 L461.0,211.3 L461.3,208.4 L461.5,203.1 L461.7,193.8 L462.0,179.6 L462.2,162.4 L462.4,146.8 L462.5,141.6 L462.7,148.7 L462.9,164.8 L463.1,181.8 L463.3,195.4 L463.6,204.1 L463.8,209.0 L464.0,211.6 L464.3,213.2 L464.5,214.3 L464.7,215.3 L465.0,215.9 L465.2,216.4 L465.4,216.8 L465.7,217.0 L465.9,217.3 L466.1,217.4 L466.4,217.5 L466.6,217.7 L466.8,217.7 L467.1,217.8 L467.3,217.7 L467.5,217.8 L467.8,217.7 L468.0,217.7 L468.2,217.7 L468.5,217.5 L468.7,217.5 L468.9,217.4 L469.2,217.1 L469.4,216.9 L469.6,216.7 L469.9,216.2 L470.1,215.7 L470.3,215.1 L470.5,214.2 L470.8,213.0 L471.0,211.2 L471.2,208.2 L471.5,202.8 L471.7,193.0 L471.9,178.7 L472.2,162.0 L472.4,147.4 L472.5,144.2 L472.6,153.2 L472.9,169.2 L473.1,185.5 L473.3,197.8 L473.6,205.4 L473.8,209.7 L474.0,212.1 L474.3,213.6 L474.5,214.7 L474.7,215.5 L475.0,216.0 L475.2,216.6 L475.4,216.9 L475.7,217.1 L475.9,217.3 L476.1,217.4 L476.4,217.5 L476.6,217.5 L476.8,217.6 L477.1,217.7 L477.3,217.7 L477.5,217.8 L477.8,217.8 L478.0,217.8 L478.2,217.7 L478.4,217.6 L478.7,217.5 L478.9,217.4 L479.1,217.3 L479.4,217.4 L479.6,217.3 L479.8,217.2 L480.1,217.0 L480.3,216.6 L480.5,215.9 L480.8,214.5 L481.0,212.1 L481.2,208.6 L481.5,204.9 L481.7,202.1 L481.8,201.6 L481.9,201.8 L482.2,202.8 L482.4,202.6 L482.6,200.2 L482.9,195.7 L483.1,191.1 L483.2,189.3 L483.3,190.8 L483.6,196.3 L483.8,202.7 L484.0,208.3 L484.3,212.2 L484.5,214.3 L484.7,215.4 L485.0,216.0 L485.2,216.4 L485.4,216.8 L485.6,217.0 L485.9,217.1 L486.1,217.2 L486.3,217.3 L486.6,217.4 L486.8,217.5 L487.0,217.5 L487.3,217.6 L487.5,217.6 L487.7,217.5 L488.0,217.2 L488.2,216.7 L488.4,215.9 L488.7,214.8 L488.9,213.5 L489.1,212.3 L489.4,211.3 L489.5,211.1 L489.6,211.1 L489.8,211.8 L490.1,213.0 L490.3,214.3 L490.5,215.5 L490.8,216.3 L491.0,216.9 L491.2,217.3 L491.5,217.5 L491.7,217.6 L491.9,217.7 L492.2,217.7 L492.4,217.7 L492.6,217.8 L492.9,217.8 L493.1,217.8 L493.3,217.7 L493.5,217.6 L493.8,217.6 L494.0,217.5 L494.2,217.5 L494.5,217.6 L494.7,217.6 L494.9,217.6 L495.2,217.7 L495.4,217.6 L495.6,217.6 L495.9,217.6 L496.1,217.6 L496.3,217.6 L496.6,217.7 L496.8,217.7 L497.0,217.7 L497.3,217.7 L497.5,217.6 L497.7,217.6 L498.0,217.5 L498.2,217.4 L498.4,217.4 L498.7,217.2 L498.9,217.0 L499.1,216.9 L499.2,216.8 L499.4,216.9 L499.6,217.1 L499.8,217.2 L500.1,217.3 L500.3,217.5 L500.5,217.6 L500.7,217.7 L501.0,217.8 L501.2,217.8 L501.4,217.8 L501.7,217.8 L501.9,217.8 L502.1,217.8 L502.4,217.8 L502.6,217.7 L502.8,217.7 L503.1,217.8 L503.3,217.8 L503.5,217.8 L503.8,217.8 L504.0,217.7 L504.2,217.6 L504.5,217.7 L504.7,217.7 L504.9,217.7 L505.2,217.7 L505.4,217.7 L505.6,217.7 L505.9,217.8 L506.1,217.9 L506.3,217.9 L506.6,217.9 L506.8,217.9 L507.0,218.0 L507.3,217.8 L507.5,217.9 L507.7,217.8 L507.9,217.7 L508.2,217.7 L508.4,217.7 L508.6,217.7 L508.9,217.8 L509.1,217.7 L509.3,217.7 L509.6,217.7 L509.8,217.7 L510.0,217.7 L510.3,217.7 L510.5,217.6 L510.7,217.5 L511.0,217.6 L511.2,217.6 L511.4,217.8 L511.7,217.8 L511.9,217.8 L512.1,217.7 L512.4,217.6 L512.6,217.7 L512.8,217.7 L513.1,217.9 L513.3,217.9 L513.5,217.9 L513.8,217.9 L514.0,217.9 L514.2,217.8 L514.5,217.8 L514.7,217.7 L514.9,217.8 L515.2,217.8 L515.4,217.8 L515.6,217.9 L515.8,217.9 L516.1,217.9 L516.3,217.8 L516.5,217.8 L516.8,217.8 L517.0,217.7 L517.2,217.8 L517.5,217.7 L517.7,217.7 L517.9,217.7 L518.2,217.7 L518.4,217.8 L518.6,217.8 L518.9,217.8 L519.1,217.7" fill="none" stroke="#1667cc" stroke-width="2.1" stroke-linejoin="round" stroke-linecap="butt"/>
<path d="M57.7,522.5 L57.9,522.5 L58.2,522.5 L58.4,522.5 L58.6,522.5 L58.8,522.5 L59.1,522.5 L59.3,522.6 L59.5,522.7 L59.8,522.6 L60.0,522.6 L60.2,522.6 L60.5,522.4 L60.7,522.4 L60.9,522.5 L61.1,522.4 L61.4,522.6 L61.6,522.6 L61.8,522.5 L62.1,522.6 L62.3,522.6 L62.5,522.5 L62.8,522.4 L63.0,522.4 L63.2,522.4 L63.4,522.4 L63.7,522.4 L63.9,522.4 L64.1,522.4 L64.4,522.4 L64.6,522.5 L64.8,522.5 L65.0,522.6 L65.3,522.6 L65.5,522.5 L65.7,522.5 L66.0,522.5 L66.2,522.5 L66.4,522.6 L66.7,522.6 L66.9,522.6 L67.1,522.6 L67.3,522.6 L67.6,522.6 L67.8,522.6 L68.0,522.6 L68.3,522.6 L68.5,522.5 L68.7,522.6 L69.0,522.5 L69.2,522.4 L69.4,522.5 L69.6,522.5 L69.9,522.5 L70.1,522.5 L70.3,522.5 L70.6,522.4 L70.8,522.4 L71.0,522.5 L71.2,522.4 L71.5,522.4 L71.7,522.4 L71.9,522.5 L72.2,522.5 L72.4,522.5 L72.6,522.6 L72.9,522.5 L73.1,522.6 L73.3,522.5 L73.5,522.5 L73.8,522.4 L74.0,522.4 L74.2,522.4 L74.5,522.4 L74.7,522.4 L74.9,522.4 L75.1,522.5 L75.4,522.4 L75.6,522.5 L75.8,522.5 L76.1,522.5 L76.3,522.5 L76.5,522.5 L76.8,522.4 L77.0,522.5 L77.2,522.5 L77.4,522.5 L77.7,522.5 L77.9,522.5 L78.1,522.5 L78.4,522.4 L78.6,522.4 L78.8,522.5 L79.1,522.5 L79.3,522.5 L79.5,522.5 L79.7,522.5 L80.0,522.4 L80.2,522.4 L80.4,522.6 L80.7,522.5 L80.9,522.6 L81.1,522.6 L81.3,522.4 L81.6,522.4 L81.8,522.4 L82.0,522.4 L82.3,522.5 L82.5,522.5 L82.7,522.4 L83.0,522.5 L83.2,522.4 L83.4,522.5 L83.6,522.5 L83.9,522.4 L84.1,522.5 L84.3,522.5 L84.6,522.5 L84.8,522.6 L85.0,522.6 L85.3,522.5 L85.5,522.5 L85.7,522.5 L85.9,522.5 L86.2,522.5 L86.4,522.4 L86.6,522.4 L86.9,522.4 L87.1,522.4 L87.3,522.4 L87.5,522.4 L87.8,522.5 L88.0,522.4 L88.2,522.5 L88.5,522.5 L88.7,522.5 L88.9,522.6 L89.2,522.6 L89.4,522.6 L89.6,522.6 L89.8,522.6 L90.1,522.5 L90.3,522.5 L90.5,522.5 L90.8,522.5 L91.0,522.6 L91.2,522.6 L91.5,522.6 L91.7,522.6 L91.9,522.6 L92.1,522.6 L92.4,522.6 L92.6,522.6 L92.8,522.6 L93.1,522.5 L93.3,522.4 L93.5,522.4 L93.7,522.5 L94.0,522.6 L94.2,522.7 L94.4,522.6 L94.7,522.6 L94.9,522.6 L95.1,522.5 L95.4,522.5 L95.6,522.5 L95.8,522.5 L96.0,522.5 L96.3,522.5 L96.5,522.5 L96.7,522.5 L97.0,522.6 L97.2,522.6 L97.4,522.7 L97.7,522.6 L97.9,522.5 L98.1,522.5 L98.3,522.4 L98.6,522.4 L98.8,522.5 L99.0,522.5 L99.3,522.5 L99.5,522.6 L99.7,522.5 L99.9,522.5 L100.2,522.5 L100.4,522.5 L100.6,522.6 L100.9,522.5 L101.1,522.5 L101.3,522.5 L101.6,522.4 L101.8,522.4 L102.0,522.5 L102.2,522.4 L102.5,522.3 L102.7,522.3 L102.9,522.2 L103.2,522.3 L103.4,522.3 L103.6,522.3 L103.8,522.3 L104.1,522.0 L104.3,521.8 L104.5,521.4 L104.8,521.2 L105.0,520.9 L105.2,520.6 L105.3,520.6 L105.5,520.6 L105.7,520.8 L105.9,521.1 L106.1,521.5 L106.4,521.8 L106.6,522.0 L106.8,522.1 L107.1,522.2 L107.3,522.2 L107.5,522.3 L107.8,522.4 L108.0,522.5 L108.2,522.4 L108.4,522.3 L108.7,522.4 L108.9,522.3 L109.1,522.3 L109.4,522.3 L109.6,522.4 L109.8,522.4 L110.0,522.4 L110.3,522.5 L110.5,522.4 L110.7,522.5 L111.0,522.5 L111.2,522.5 L111.4,522.5 L111.7,522.4 L111.9,522.2 L112.1,522.0 L112.3,521.8 L112.6,521.7 L112.8,521.5 L113.0,521.3 L113.3,521.3 L113.4,521.2 L113.5,521.3 L113.7,521.4 L114.0,521.6 L114.2,521.8 L114.4,522.0 L114.6,522.1 L114.9,522.1 L115.1,522.2 L115.3,522.2 L115.6,522.2 L115.8,522.2 L116.0,522.1 L116.2,522.0 L116.5,521.9 L116.7,521.6 L116.9,521.5 L117.2,521.2 L117.4,521.0 L117.6,520.6 L117.9,520.0 L118.1,519.3 L118.3,518.3 L118.5,517.1 L118.8,515.4 L119.0,512.5 L119.2,507.9 L119.5,500.3 L119.7,489.2 L119.9,475.3 L120.2,460.7 L120.4,448.5 L120.4,446.1 L120.6,454.1 L120.8,467.9 L121.1,482.4 L121.3,495.1 L121.5,504.3 L121.8,510.1 L122.0,513.8 L122.2,515.8 L122.4,516.9 L122.7,517.3 L122.9,516.8 L123.1,515.5 L123.4,513.4 L123.6,510.8 L123.8,508.2 L124.1,506.3 L124.2,505.8 L124.3,506.5 L124.5,508.7 L124.7,511.8 L125.0,514.9 L125.2,517.5 L125.4,519.4 L125.7,520.6 L125.9,521.3 L126.1,521.6 L126.4,521.8 L126.6,522.0 L126.8,522.1 L127.0,522.2 L127.3,522.2 L127.5,522.3 L127.7,522.2 L128.0,522.3 L128.2,522.3 L128.4,522.3 L128.6,522.3 L128.9,522.3 L129.1,522.3 L129.3,522.3 L129.6,522.5 L129.8,522.6 L130.0,522.6 L130.3,522.5 L130.5,522.5 L130.7,522.5 L130.9,522.5 L131.2,522.6 L131.4,522.6 L131.6,522.5 L131.9,522.3 L132.1,522.2 L132.3,522.0 L132.5,521.9 L132.8,521.9 L133.0,521.9 L133.2,521.7 L133.5,521.2 L133.7,520.6 L133.9,519.7 L134.2,518.6 L134.4,517.1 L134.6,515.0 L134.8,512.1 L135.1,507.7 L135.3,499.9 L135.5,484.6 L135.8,455.8 L136.0,412.3 L136.2,365.0 L136.4,337.3 L136.5,345.5 L136.7,388.1 L136.9,435.6 L137.1,472.1 L137.4,493.6 L137.6,504.4 L137.8,510.2 L138.1,513.7 L138.3,516.2 L138.5,517.9 L138.7,519.2 L139.0,520.1 L139.2,520.8 L139.4,521.2 L139.7,521.6 L139.9,521.9 L140.1,522.0 L140.4,522.2 L140.6,522.2 L140.8,522.2 L141.0,522.3 L141.3,522.4 L141.5,522.4 L141.7,522.4 L142.0,522.4 L142.2,522.3 L142.4,522.3 L142.7,522.2 L142.9,522.1 L143.1,522.0 L143.3,521.9 L143.6,521.7 L143.8,521.3 L144.0,520.6 L144.3,519.6 L144.5,517.9 L144.7,515.6 L144.9,512.5 L145.2,509.0 L145.4,505.6 L145.6,502.8 L145.8,501.3 L145.9,501.3 L146.1,501.8 L146.3,502.9 L146.6,504.1 L146.8,504.1 L147.0,501.6 L147.2,494.0 L147.5,476.4 L147.7,445.3 L147.9,404.3 L148.2,367.5 L148.2,360.4 L148.4,384.7 L148.6,426.1 L148.9,464.0 L149.1,489.2 L149.3,502.5 L149.5,509.3 L149.8,513.2 L150.0,515.7 L150.2,517.6 L150.5,518.9 L150.7,519.8 L150.9,520.5 L151.1,521.0 L151.4,521.5 L151.6,521.7 L151.8,521.9 L152.1,522.1 L152.3,522.3 L152.5,522.4 L152.8,522.5 L153.0,522.5 L153.2,522.4 L153.4,522.4 L153.7,522.3 L153.9,522.2 L154.1,522.1 L154.4,521.8 L154.6,521.4 L154.8,521.0 L155.1,520.2 L155.3,519.3 L155.5,518.5 L155.7,517.8 L155.9,517.6 L156.0,517.8 L156.2,518.3 L156.4,519.1 L156.7,519.7 L156.9,519.9 L157.1,519.5 L157.3,518.2 L157.6,516.1 L157.8,513.3 L158.0,510.5 L158.3,508.2 L158.4,507.2 L158.5,507.4 L158.7,508.6 L159.0,510.7 L159.2,512.9 L159.4,514.6 L159.6,515.2 L159.9,514.6 L160.1,512.3 L160.3,506.7 L160.6,495.5 L160.8,477.3 L161.0,455.6 L161.2,437.9 L161.2,437.9 L161.5,455.6 L161.7,477.4 L161.9,495.8 L162.2,507.2 L162.4,513.1 L162.6,516.2 L162.9,518.1 L163.1,519.3 L163.3,520.2 L163.5,520.9 L163.8,521.3 L164.0,521.7 L164.2,521.8 L164.5,521.9 L164.7,522.1 L164.9,522.2 L165.2,522.3 L165.4,522.3 L165.6,522.3 L165.8,522.4 L166.1,522.4 L166.3,522.5 L166.5,522.5 L166.8,522.5 L167.0,522.4 L167.2,522.3 L167.4,522.3 L167.7,522.1 L167.9,521.9 L168.1,521.4 L168.4,520.7 L168.6,519.9 L168.8,519.0 L169.1,518.5 L169.2,518.4 L169.3,518.5 L169.5,519.1 L169.7,520.0 L170.0,520.7 L170.2,521.3 L170.4,521.7 L170.7,521.7 L170.9,521.8 L171.1,521.4 L171.4,520.6 L171.6,519.5 L171.8,517.8 L172.0,516.2 L172.3,515.0 L172.4,514.7 L172.5,514.9 L172.7,516.1 L173.0,517.5 L173.2,519.0 L173.4,520.0 L173.6,520.5 L173.9,520.6 L174.1,520.3 L174.3,519.5 L174.6,517.7 L174.8,514.0 L175.0,507.9 L175.3,500.5 L175.5,494.4 L175.5,493.4 L175.7,497.1 L175.9,504.2 L176.2,511.2 L176.4,516.2 L176.6,518.9 L176.9,520.3 L177.1,521.0 L177.3,521.4 L177.6,521.6 L177.8,521.7 L178.0,521.9 L178.2,521.9 L178.5,522.1 L178.7,522.2 L178.9,522.2 L179.2,522.2 L179.4,522.1 L179.6,522.1 L179.8,522.2 L180.1,522.1 L180.3,522.1 L180.5,521.9 L180.8,521.6 L181.0,521.1 L181.2,520.5 L181.5,520.0 L181.6,519.7 L181.7,519.7 L181.9,520.0 L182.1,520.5 L182.4,521.0 L182.6,521.4 L182.8,521.4 L183.1,521.2 L183.3,520.7 L183.5,520.0 L183.8,519.3 L184.0,519.0 L184.0,518.8 L184.2,519.1 L184.4,519.8 L184.7,520.5 L184.9,521.1 L185.1,521.7 L185.4,521.9 L185.6,522.0 L185.8,522.1 L186.0,522.1 L186.3,522.1 L186.5,522.0 L186.7,521.8 L187.0,521.4 L187.2,520.8 L187.4,520.0 L187.7,519.1 L187.9,518.5 L188.0,518.3 L188.1,518.5 L188.3,519.1 L188.6,519.9 L188.8,520.7 L189.0,521.3 L189.3,521.6 L189.5,521.9 L189.7,521.9 L189.9,521.8 L190.2,521.6 L190.4,521.2 L190.6,520.6 L190.9,519.6 L191.1,518.2 L191.3,516.7 L191.6,515.1 L191.8,514.2 L191.8,514.1 L192.0,514.7 L192.2,516.0 L192.5,517.4 L192.7,518.8 L192.9,520.0 L193.2,520.9 L193.4,521.5 L193.6,521.9 L193.9,521.9 L194.1,522.0 L194.3,522.0 L194.5,522.0 L194.8,522.1 L195.0,522.1 L195.2,522.1 L195.5,522.2 L195.7,522.3 L195.9,522.3 L196.1,522.3 L196.4,522.2 L196.6,522.2 L196.8,522.2 L197.1,522.3 L197.3,522.3 L197.5,522.3 L197.8,522.2 L198.0,522.2 L198.2,522.2 L198.4,522.2 L198.7,522.2 L198.9,522.3 L199.1,522.3 L199.4,522.2 L199.6,522.3 L199.8,522.2 L200.1,522.2 L200.3,522.3 L200.5,522.2 L200.7,522.3 L201.0,522.3 L201.2,522.4 L201.4,522.4 L201.7,522.3 L201.9,522.4 L202.1,522.3 L202.3,522.2 L202.6,522.1 L202.8,522.1 L203.0,522.2 L203.3,522.3 L203.5,522.4 L203.7,522.4 L204.0,522.4 L204.2,522.4 L204.4,522.4 L204.6,522.4 L204.9,522.4 L205.1,522.4 L205.3,522.4 L205.6,522.4 L205.8,522.3 L206.0,522.2 L206.3,522.2 L206.5,522.2 L206.7,522.3 L206.9,522.2 L207.2,522.2 L207.4,522.2 L207.6,522.2 L207.9,522.3 L208.1,522.4 L208.3,522.4 L208.5,522.3 L208.8,522.3 L209.0,522.3 L209.2,522.2 L209.5,522.2 L209.7,522.2 L209.9,522.2 L210.2,522.2 L210.4,522.2 L210.6,522.2 L210.8,522.0 L211.1,521.9 L211.3,521.7 L211.5,521.5 L211.8,521.2 L212.0,520.9 L212.2,520.6 L212.5,520.3 L212.7,520.1 L212.7,520.1 L212.9,520.2 L213.1,520.5 L213.4,520.9 L213.6,521.2 L213.8,521.5 L214.1,521.8 L214.3,521.9 L214.5,522.0 L214.7,522.1 L215.0,522.1 L215.2,522.2 L215.4,522.3 L215.7,522.3 L215.9,522.3 L216.1,522.3 L216.4,522.2 L216.6,522.2 L216.8,522.2 L217.0,522.2 L217.3,522.1 L217.5,522.2 L217.7,522.2 L218.0,522.2 L218.2,522.3 L218.4,522.3 L218.6,522.3 L218.9,522.3 L219.1,522.3 L219.3,522.2 L219.6,522.2 L219.8,522.1 L220.0,522.2 L220.3,522.3 L220.5,522.3 L220.7,522.4 L220.9,522.3 L221.2,522.3 L221.4,522.3 L221.6,522.3 L221.9,522.3 L222.1,522.3 L222.3,522.2 L222.6,522.2 L222.8,522.2 L223.0,522.2 L223.2,522.2 L223.5,522.1 L223.7,522.2 L223.9,522.1 L224.2,522.0 L224.4,522.0 L224.6,522.0 L224.8,522.0 L225.1,522.1 L225.3,522.1 L225.5,522.1 L225.8,522.1 L226.0,522.1 L226.2,522.1 L226.5,522.1 L226.7,522.1 L226.9,522.2 L227.1,522.1 L227.4,522.2 L227.6,522.1 L227.8,522.1 L228.1,522.1 L228.3,522.1 L228.5,522.1 L228.8,522.1 L229.0,522.1 L229.2,522.1 L229.4,522.2 L229.7,522.2 L229.9,522.2 L230.1,522.2 L230.4,522.2 L230.6,522.1 L230.8,522.1 L231.0,522.0 L231.3,522.0 L231.5,522.1 L231.7,522.1 L232.0,522.1 L232.2,522.1 L232.4,522.1 L232.7,522.1 L232.9,522.1 L233.1,522.2 L233.3,522.2 L233.6,522.3 L233.8,522.3 L234.0,522.2 L234.3,522.1 L234.5,522.1 L234.7,522.1 L235.0,522.2 L235.2,522.2 L235.4,522.2 L235.6,522.1 L235.9,522.0 L236.1,522.0 L236.3,522.0 L236.6,522.1 L236.8,522.2 L237.0,522.2 L237.2,522.2 L237.5,522.2 L237.7,522.1 L237.9,522.1 L238.2,522.1 L238.4,522.2 L238.6,522.2 L238.9,522.2 L239.1,522.1 L239.3,522.1 L239.5,522.0 L239.8,522.0 L240.0,522.0 L240.2,522.1 L240.5,522.2 L240.7,522.2 L240.9,522.1 L241.2,522.0 L241.4,521.9 L241.6,522.0 L241.8,522.1 L242.1,522.1 L242.3,522.1 L242.5,522.0 L242.8,522.0 L243.0,522.0 L243.2,522.0 L243.4,522.0 L243.7,522.1 L243.9,522.0 L244.1,522.0 L244.4,522.0 L244.6,521.9 L244.8,521.9 L245.1,522.0 L245.3,521.9 L245.5,522.0 L245.7,522.1 L246.0,522.2 L246.2,522.1 L246.4,522.2 L246.7,522.1 L246.9,522.1 L247.1,522.1 L247.3,522.1 L247.6,522.1 L247.8,522.0 L248.0,521.9 L248.3,521.9 L248.5,521.9 L248.7,521.9 L249.0,522.0 L249.2,522.0 L249.4,522.0 L249.6,522.0 L249.9,522.0 L250.1,522.0 L250.3,522.0 L250.6,522.0 L250.8,522.0 L251.0,522.0 L251.3,522.1 L251.5,522.1 L251.7,522.0 L251.9,522.1 L252.2,522.1 L252.4,522.1 L252.6,522.2 L252.9,522.0 L253.1,522.1 L253.3,522.0 L253.5,521.9 L253.8,522.0 L254.0,521.9 L254.2,521.9 L254.5,522.0 L254.7,522.0 L254.9,522.0 L255.2,522.1 L255.4,522.0 L255.6,522.1 L255.8,522.0 L256.1,522.0 L256.3,522.1 L256.5,522.0 L256.8,522.0 L257.0,522.1 L257.2,522.0 L257.5,522.1 L257.7,522.1 L257.9,522.1 L258.1,522.1 L258.4,522.0 L258.6,522.0 L258.8,522.0 L259.1,522.0 L259.3,522.0 L259.5,522.0 L259.7,522.0 L260.0,522.1 L260.2,522.1 L260.4,522.0 L260.7,521.9 L260.9,521.8 L261.1,521.8 L261.4,521.9 L261.6,521.9 L261.8,522.0 L262.0,521.9 L262.3,521.9 L262.5,521.9 L262.7,522.0 L263.0,522.0 L263.2,522.0 L263.4,522.0 L263.7,521.9 L263.9,522.0 L264.1,522.0 L264.3,522.0 L264.6,522.1 L264.8,522.1 L265.0,522.1 L265.3,522.1 L265.5,522.1 L265.7,522.1 L265.9,522.0 L266.2,522.0 L266.4,522.0 L266.6,522.1 L266.9,522.1 L267.1,522.1 L267.3,522.0 L267.6,522.0 L267.8,521.9 L268.0,521.9 L268.2,521.9 L268.5,521.9 L268.7,522.0 L268.9,521.9 L269.2,521.9 L269.4,522.0 L269.6,521.9 L269.9,522.0 L270.1,522.0 L270.3,521.9 L270.5,522.0 L270.8,522.0 L271.0,522.0 L271.2,522.0 L271.5,522.0 L271.7,522.0 L271.9,522.1 L272.1,522.1 L272.4,522.2 L272.6,522.2 L272.8,522.2 L273.1,522.1 L273.3,522.1 L273.5,522.0 L273.8,522.0 L274.0,522.1 L274.2,522.1 L274.4,522.1 L274.7,522.2 L274.9,522.1 L275.1,522.1 L275.4,522.1 L275.6,522.1 L275.8,522.1 L276.0,522.0 L276.3,522.1 L276.5,522.1 L276.7,522.0 L277.0,522.1 L277.2,522.0 L277.4,522.0 L277.7,522.0 L277.9,522.0 L278.1,522.1 L278.3,522.1 L278.6,522.1 L278.8,522.1 L279.0,522.0 L279.3,522.0 L279.5,521.9 L279.7,522.0 L280.0,522.0 L280.2,522.0 L280.4,522.1 L280.6,522.1 L280.9,522.2 L281.1,522.1 L281.3,522.1 L281.6,522.1 L281.8,522.1 L282.0,522.0 L282.2,522.1 L282.5,522.1 L282.7,522.0 L282.9,522.0 L283.2,521.9 L283.4,521.9 L283.6,521.9 L283.9,522.0 L284.1,522.0 L284.3,522.0 L284.5,522.1 L284.8,522.0 L285.0,522.0 L285.2,522.0 L285.5,522.0 L285.7,522.1 L285.9,522.1 L286.2,522.1 L286.4,522.1 L286.6,522.1 L286.8,522.1 L287.1,522.1 L287.3,522.1 L287.5,522.0 L287.8,522.1 L288.0,522.1 L288.2,522.0 L288.4,522.1 L288.7,522.0 L288.9,522.1 L289.1,522.1 L289.4,522.0 L289.6,522.1 L289.8,522.1 L290.1,522.1 L290.3,522.2 L290.5,522.2 L290.7,522.1 L291.0,522.1 L291.2,522.0 L291.4,521.9 L291.7,522.0 L291.9,522.0 L292.1,522.0 L292.4,522.0 L292.6,522.0 L292.8,522.0 L293.0,522.0 L293.3,522.0 L293.5,522.0 L293.7,522.0 L294.0,522.1 L294.2,522.1 L294.4,522.2 L294.6,522.2 L294.9,522.2 L295.1,522.2 L295.3,522.2 L295.6,522.1 L295.8,522.1 L296.0,522.0 L296.3,522.0 L296.5,521.9 L296.7,521.9 L296.9,521.9 L297.2,522.0 L297.4,522.2 L297.6,522.2 L297.9,522.2 L298.1,522.2 L298.3,522.1 L298.6,522.0 L298.8,522.0 L299.0,522.1 L299.2,522.1 L299.5,522.2 L299.7,522.2 L299.9,522.2 L300.2,522.1 L300.4,522.2 L300.6,522.1 L300.8,522.1 L301.1,522.1 L301.3,522.0 L301.5,522.0 L301.8,522.0 L302.0,522.1 L302.2,522.2 L302.5,522.2 L302.7,522.2 L302.9,522.1 L303.1,522.1 L303.4,522.1 L303.6,522.2 L303.8,522.2 L304.1,522.2 L304.3,522.1 L304.5,522.1 L304.7,522.1 L305.0,522.2 L305.2,522.3 L305.4,522.2 L305.7,522.2 L305.9,522.2 L306.1,522.1 L306.4,522.2 L306.6,522.2 L306.8,522.2 L307.0,522.2 L307.3,522.1 L307.5,522.1 L307.7,522.1 L308.0,522.1 L308.2,522.2 L308.4,522.2 L308.7,522.3 L308.9,522.3 L309.1,522.3 L309.3,522.2 L309.6,522.1 L309.8,522.1 L310.0,522.1 L310.3,522.1 L310.5,522.2 L310.7,522.2 L310.9,522.2 L311.2,522.2 L311.4,522.1 L311.6,522.2 L311.9,522.3 L312.1,522.3 L312.3,522.3 L312.6,522.3 L312.8,522.2 L313.0,522.1 L313.2,522.1 L313.5,522.1 L313.7,522.1 L313.9,522.1 L314.2,522.2 L314.4,522.2 L314.6,522.3 L314.9,522.3 L315.1,522.2 L315.3,522.2 L315.5,522.1 L315.8,522.2 L316.0,522.2 L316.2,522.2 L316.5,522.3 L316.7,522.3 L316.9,522.3 L317.1,522.2 L317.4,522.2 L317.6,522.1 L317.8,522.2 L318.1,522.3 L318.3,522.3 L318.5,522.4 L318.8,522.3 L319.0,522.3 L319.2,522.2 L319.4,522.1 L319.7,522.1 L319.9,522.1 L320.1,522.2 L320.4,522.2 L320.6,522.2 L320.8,522.2 L321.1,522.2 L321.3,522.2 L321.5,522.2 L321.7,522.2 L322.0,522.2 L322.2,522.4 L322.4,522.3 L322.7,522.3 L322.9,522.3 L323.1,522.2 L323.3,522.1 L323.6,522.2 L323.8,522.1 L324.0,522.2 L324.3,522.3 L324.5,522.2 L324.7,522.2 L325.0,522.2 L325.2,522.2 L325.4,522.2 L325.6,522.2 L325.9,522.2 L326.1,522.2 L326.3,522.2 L326.6,522.2 L326.8,522.2 L327.0,522.2 L327.3,522.3 L327.5,522.3 L327.7,522.4 L327.9,522.4 L328.2,522.4 L328.4,522.4 L328.6,522.4 L328.9,522.4 L329.1,522.4 L329.3,522.3 L329.5,522.3 L329.8,522.3 L330.0,522.4 L330.2,522.4 L330.5,522.4 L330.7,522.4 L330.9,522.3 L331.2,522.2 L331.4,522.3 L331.6,522.4 L331.8,522.4 L332.1,522.5 L332.3,522.5 L332.5,522.4 L332.8,522.4 L333.0,522.4 L333.2,522.3 L333.4,522.3 L333.7,522.4 L333.9,522.4 L334.1,522.4 L334.4,522.3 L334.6,522.3 L334.8,522.2 L335.1,522.3 L335.3,522.3 L335.5,522.2 L335.7,522.3 L336.0,522.3 L336.2,522.4 L336.4,522.4 L336.7,522.4 L336.9,522.5 L337.1,522.4 L337.4,522.4 L337.6,522.3 L337.8,522.3 L338.0,522.3 L338.3,522.3 L338.5,522.2 L338.7,522.1 L339.0,522.0 L339.2,522.0 L339.4,521.9 L339.6,521.7 L339.9,521.5 L340.1,521.0 L340.3,520.5 L340.6,519.7 L340.8,518.7 L341.0,517.3 L341.3,515.2 L341.5,512.1 L341.7,506.3 L341.9,494.9 L342.2,474.3 L342.4,445.4 L342.6,416.8 L342.7,405.7 L342.9,416.6 L343.1,445.2 L343.3,474.1 L343.6,494.8 L343.8,506.4 L344.0,512.1 L344.2,515.3 L344.5,517.3 L344.7,518.7 L344.9,519.8 L345.2,520.6 L345.4,521.1 L345.6,521.5 L345.8,521.6 L346.1,521.8 L346.3,521.9 L346.5,521.9 L346.8,521.9 L347.0,521.8 L347.2,521.7 L347.5,521.4 L347.7,520.7 L347.9,519.2 L348.1,517.0 L348.4,514.6 L348.6,512.9 L348.6,512.9 L348.8,514.7 L349.1,517.1 L349.3,519.3 L349.5,520.6 L349.8,521.4 L350.0,521.8 L350.2,521.9 L350.4,522.1 L350.7,522.2 L350.9,522.2 L351.1,522.2 L351.4,522.2 L351.6,522.2 L351.8,522.2 L352.0,522.1 L352.3,521.9 L352.5,521.5 L352.7,521.1 L353.0,520.7 L353.2,520.5 L353.2,520.5 L353.4,520.7 L353.7,521.0 L353.9,521.4 L354.1,521.8 L354.3,522.0 L354.6,522.2 L354.8,522.3 L355.0,522.3 L355.3,522.4 L355.5,522.4 L355.7,522.3 L356.0,522.5 L356.2,522.4 L356.4,522.4 L356.6,522.3 L356.9,522.3 L357.1,522.3 L357.3,522.2 L357.6,522.3 L357.8,522.2 L358.0,522.1 L358.2,522.0 L358.5,521.8 L358.7,521.5 L358.9,521.2 L359.2,520.6 L359.4,519.4 L359.6,517.2 L359.9,513.2 L360.1,507.9 L360.3,503.0 L360.4,501.4 L360.5,503.0 L360.8,507.8 L361.0,513.1 L361.2,517.1 L361.5,519.4 L361.7,520.6 L361.9,521.2 L362.1,521.5 L362.4,521.8 L362.6,521.9 L362.8,522.1 L363.1,522.2 L363.3,522.2 L363.5,522.3 L363.8,522.3 L364.0,522.2 L364.2,522.2 L364.4,522.1 L364.7,522.0 L364.9,521.9 L365.1,521.8 L365.4,521.5 L365.6,521.1 L365.8,520.1 L366.1,518.2 L366.3,515.1 L366.5,511.4 L366.7,508.3 L366.8,507.8 L367.0,509.7 L367.2,513.3 L367.4,516.9 L367.7,519.4 L367.9,520.8 L368.1,521.4 L368.3,521.7 L368.6,522.0 L368.8,522.1 L369.0,522.1 L369.3,522.2 L369.5,522.1 L369.7,522.1 L370.0,522.1 L370.2,522.0 L370.4,522.0 L370.6,521.8 L370.9,521.6 L371.1,521.4 L371.3,521.2 L371.6,521.0 L371.8,520.6 L372.0,520.1 L372.3,519.3 L372.5,517.8 L372.7,515.5 L372.9,511.3 L373.2,505.4 L373.4,497.8 L373.6,489.8 L373.9,483.3 L374.0,481.0 L374.1,483.3 L374.3,489.8 L374.5,497.7 L374.8,505.4 L375.0,511.4 L375.2,515.4 L375.5,517.8 L375.7,519.2 L375.9,520.0 L376.2,520.6 L376.4,520.9 L376.6,521.1 L376.8,521.4 L377.1,521.5 L377.3,521.6 L377.5,521.6 L377.8,521.6 L378.0,521.5 L378.2,521.2 L378.5,521.0 L378.7,520.5 L378.9,519.7 L379.1,518.8 L379.4,517.4 L379.6,515.4 L379.8,512.5 L380.1,507.5 L380.3,497.9 L380.5,479.3 L380.7,449.3 L381.0,413.6 L381.2,384.5 L381.2,384.5 L381.4,413.5 L381.7,449.1 L381.9,479.1 L382.1,497.7 L382.4,507.2 L382.6,512.1 L382.8,514.9 L383.0,516.8 L383.3,518.1 L383.5,518.9 L383.7,519.4 L384.0,519.5 L384.2,519.2 L384.4,518.8 L384.7,517.8 L384.9,516.1 L385.1,513.4 L385.3,508.6 L385.6,498.8 L385.8,481.3 L386.0,456.7 L386.3,432.2 L386.4,422.9 L386.5,432.3 L386.7,456.8 L386.9,481.5 L387.2,499.1 L387.4,508.8 L387.6,513.6 L387.9,516.1 L388.1,517.5 L388.3,518.2 L388.6,518.2 L388.8,517.8 L389.0,517.3 L389.2,517.1 L389.2,517.2 L389.5,517.9 L389.7,519.0 L389.9,520.2 L390.2,521.1 L390.4,521.6 L390.6,522.0 L390.8,522.1 L391.1,522.3 L391.3,522.5 L391.5,522.5 L391.8,522.6 L392.0,522.5 L392.2,522.5 L392.5,522.5 L392.7,522.5 L392.9,522.5 L393.1,522.5 L393.4,522.6 L393.6,522.6 L393.8,522.4 L394.1,522.5 L394.3,522.4 L394.5,522.4 L394.8,522.5 L395.0,522.5 L395.2,522.5 L395.4,522.5 L395.7,522.4 L395.9,522.4 L396.1,522.3 L396.4,522.3 L396.6,522.3 L396.8,522.4 L397.0,522.3 L397.3,522.0 L397.5,521.8 L397.7,521.5 L398.0,521.2 L398.2,520.3 L398.4,518.5 L398.7,515.4 L398.9,511.2 L399.1,507.4 L399.2,506.1 L399.3,507.4 L399.6,511.2 L399.8,515.3 L400.0,518.4 L400.3,520.1 L400.5,520.9 L400.7,521.3 L401.0,521.4 L401.2,521.3 L401.4,521.2 L401.6,520.9 L401.9,520.2 L402.1,518.7 L402.3,515.7 L402.6,511.1 L402.8,505.9 L403.0,502.2 L403.0,502.2 L403.2,505.8 L403.5,510.9 L403.7,515.6 L403.9,518.7 L404.2,520.4 L404.4,521.1 L404.6,521.5 L404.9,521.6 L405.1,521.8 L405.3,521.9 L405.5,522.0 L405.8,522.0 L406.0,521.9 L406.2,521.8 L406.5,521.6 L406.7,521.3 L406.9,520.9 L407.2,520.4 L407.4,519.6 L407.6,518.1 L407.8,515.3 L408.1,509.8 L408.3,500.8 L408.5,490.4 L408.8,481.8 L408.8,481.8 L409.0,490.4 L409.2,500.9 L409.4,509.7 L409.7,515.2 L409.9,518.1 L410.1,519.4 L410.4,520.3 L410.6,520.9 L410.8,521.3 L411.1,521.7 L411.3,521.9 L411.5,522.0 L411.7,522.1 L412.0,522.3 L412.2,522.3 L412.4,522.4 L412.7,522.4 L412.9,522.5 L413.1,522.5 L413.4,522.5 L413.6,522.5 L413.8,522.4 L414.0,522.4 L414.3,522.2 L414.5,522.2 L414.7,522.0 L415.0,521.8 L415.2,521.5 L415.4,521.1 L415.6,520.5 L415.9,519.7 L416.1,518.4 L416.3,515.9 L416.6,511.2 L416.8,502.6 L417.0,490.6 L417.3,478.7 L417.4,474.1 L417.5,478.6 L417.7,490.5 L417.9,502.6 L418.2,511.1 L418.4,515.9 L418.6,518.3 L418.9,519.5 L419.1,520.5 L419.3,521.0 L419.5,521.4 L419.8,521.7 L420.0,521.9 L420.2,522.1 L420.5,522.2 L420.7,522.3 L420.9,522.3 L421.2,522.3 L421.4,522.3 L421.6,522.3 L421.8,522.5 L422.1,522.5 L422.3,522.5 L422.5,522.5 L422.8,522.4 L423.0,522.5 L423.2,522.4 L423.5,522.4 L423.7,522.2 L423.9,522.1 L424.1,521.9 L424.4,521.6 L424.6,520.9 L424.8,519.6 L425.1,517.7 L425.3,515.6 L425.5,513.6 L425.6,513.2 L425.7,512.5 L426.0,511.2 L426.2,509.5 L426.4,507.6 L426.6,506.9 L426.7,508.5 L426.9,512.2 L427.1,516.0 L427.4,518.7 L427.6,520.2 L427.8,521.0 L428.0,521.5 L428.3,521.8 L428.5,522.0 L428.7,522.2 L429.0,522.3 L429.2,522.4 L429.4,522.5 L429.7,522.5 L429.9,522.4 L430.1,522.3 L430.3,522.3 L430.6,522.2 L430.8,522.2 L431.0,522.0 L431.3,521.6 L431.5,521.0 L431.7,520.3 L431.9,519.8 L432.1,519.6 L432.2,519.6 L432.4,520.0 L432.6,520.5 L432.9,521.2 L433.1,521.8 L433.3,522.1 L433.6,522.3 L433.8,522.4 L434.0,522.5 L434.2,522.5 L434.5,522.5 L434.7,522.5 L434.9,522.4 L435.2,522.4 L435.4,522.3 L435.6,522.4 L435.9,522.3 L436.1,522.4 L436.3,522.5 L436.5,522.5 L436.8,522.5 L437.0,522.4 L437.2,522.3 L437.5,522.3 L437.7,522.3 L437.9,522.4 L438.1,522.4 L438.4,522.5 L438.6,522.5 L438.8,522.5 L439.1,522.5 L439.3,522.5 L439.5,522.5 L439.8,522.5 L440.0,522.5 L440.2,522.5 L440.4,522.5 L440.7,522.6 L440.9,522.5 L441.1,522.6 L441.4,522.5 L441.6,522.5 L441.8,522.6 L442.1,522.6 L442.3,522.6 L442.5,522.6 L442.7,522.5 L443.0,522.5 L443.2,522.6 L443.4,522.5 L443.7,522.6 L443.9,522.5 L444.1,522.5 L444.3,522.5 L444.6,522.4 L444.8,522.6 L445.0,522.6 L445.3,522.6 L445.5,522.6 L445.7,522.5 L446.0,522.4 L446.2,522.5 L446.4,522.5 L446.6,522.6 L446.9,522.6 L447.1,522.7 L447.3,522.6 L447.6,522.5 L447.8,522.6 L448.0,522.5 L448.2,522.4 L448.5,522.4 L448.7,522.4 L448.9,522.5 L449.2,522.5 L449.4,522.6 L449.6,522.6 L449.9,522.6 L450.1,522.5 L450.3,522.5 L450.5,522.5 L450.8,522.4 L451.0,522.4 L451.2,522.6 L451.5,522.6 L451.7,522.6 L451.9,522.6 L452.2,522.5 L452.4,522.5 L452.6,522.5 L452.8,522.5 L453.1,522.5 L453.3,522.5 L453.5,522.5 L453.8,522.5 L454.0,522.5 L454.2,522.6 L454.4,522.5 L454.7,522.6 L454.9,522.6 L455.1,522.5 L455.4,522.5 L455.6,522.4 L455.8,522.4 L456.1,522.4 L456.3,522.5 L456.5,522.5 L456.7,522.5 L457.0,522.4 L457.2,522.4 L457.4,522.5 L457.7,522.5 L457.9,522.5" fill="none" stroke="#1667cc" stroke-width="2.1" stroke-linejoin="round" stroke-linecap="butt"/>
<g fill="none" stroke="#2f7fd6" stroke-width="1.1">
<path d="M386.4 43.5 C386.6 33 392.5 25.3 403 25.3 H429.1 C430.8 25.3 441.9 21.8 441.6 5.2 C441.3 21.8 452.4 25.3 454.1 25.3 H482.5 C492.5 25.3 497 33 497.3 42.5"/>
<path d="M339 397.5 C339.3 387 345 376.9 356.5 376.9 H369.9 C370.5 376.9 385.9 373.8 386.9 353.3 C387.9 373.8 403.3 376.9 403.9 376.9 H417.5 C429 376.9 434.4 387 434.7 397.5"/>
</g>
<text class="ar" transform="translate(433.00 29.40) scale(1.0500 1)">Ar</text>
<text class="ar" transform="translate(380.00 332.80) scale(1.0667 1)">Ar</text>
<text class="pk" transform="translate(119.50 128.20) rotate(-90) scale(1.0411 1)">OH:309.6</text>
<text class="pkb" transform="translate(116.60 487.30) rotate(-90) scale(1.1541 1)">OH:309.6</text>
<text class="pkb" transform="translate(130.60 451.40) rotate(-90) scale(1.1330 1)">N<tspan class="sb2" dy="2.4">2</tspan><tspan dy="-2.4">: 337.26</tspan></text>
<text class="pkb" transform="translate(147.30 473.30) rotate(-90) scale(1.1449 1)">N<tspan class="sb2" dy="2.4">2</tspan><tspan dy="-2.4">: 357.77</tspan></text>
<text class="pkb" transform="translate(160.00 503.30) rotate(-90) scale(1.1588 1)">N<tspan class="sb2" dy="2.4">2</tspan><tspan dy="-2.4">: 380.36</tspan></text>
<text class="pkb" transform="translate(175.70 496.40) rotate(-90) scale(1.1548 1)">N<tspan class="sb2" dy="2.4">2</tspan><tspan dy="-2.4">: 405.22</tspan></text>
<text class="pkb" transform="translate(191.20 509.50) rotate(-90) scale(1.1489 1)">N<tspan class="sb2" dy="2.4">2</tspan><tspan dy="-2.4">: 433.62</tspan></text>
<text class="o2" transform="translate(446.20 204.50) rotate(-90) scale(0.9862 1)">O<tspan class="sb3" dy="2">2</tspan><tspan dy="-2">: 777.84</tspan></text>
<text class="o2" transform="translate(397.00 515.50) rotate(-90) scale(0.9886 1)">O<tspan class="sb3" dy="2">2</tspan><tspan dy="-2">: 777.84</tspan></text>
<text class="o2" transform="translate(490.90 203.70) rotate(-90) scale(0.9760 1)">O<tspan class="sb3" dy="2">2</tspan><tspan dy="-2">843.8</tspan></text>
<text class="o2" transform="translate(432.50 500.20) rotate(-90) scale(0.9760 1)">O<tspan class="sb3" dy="2">2</tspan><tspan dy="-2">843.8</tspan></text>
</svg>
</body></html>
